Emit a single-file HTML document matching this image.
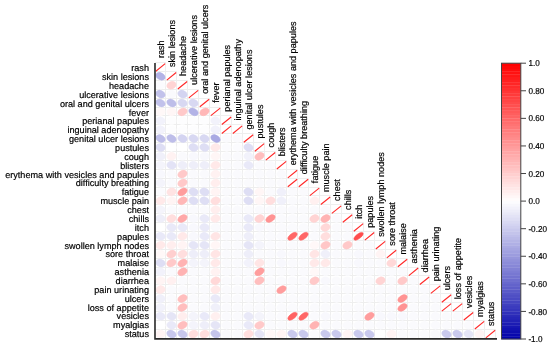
<!DOCTYPE html><html><head><meta charset="utf-8"><style>html,body{margin:0;padding:0;background:#fff;}svg{display:block}text{font-family:"Liberation Sans",Arial,sans-serif;fill:#000;stroke:#000;stroke-width:0.18px;text-rendering:geometricPrecision}</style></head><body>
<svg width="550" height="346" viewBox="0 0 550 346">
<rect width="550" height="346" fill="#fff"/>
<path d="M155.0 62.5H166.0M155.0 71.5H177.0M155.0 80.5H188.0M155.0 89.5H199.0M155.0 98.5H210.0M155.0 107.5H221.0M155.0 115.5H232.0M155.0 124.5H243.0M155.0 133.5H254.0M155.0 142.5H265.0M155.0 151.5H276.0M155.0 160.5H287.0M155.0 169.5H298.0M155.0 178.5H309.0M155.0 187.5H320.0M155.0 195.5H331.0M155.0 204.5H342.0M155.0 213.5H353.0M155.0 222.5H364.0M155.0 231.5H375.0M155.0 240.5H386.0M155.0 249.5H397.0M155.0 258.5H408.0M155.0 267.5H419.0M155.0 275.5H430.0M155.0 284.5H441.0M155.0 293.5H452.0M155.0 302.5H463.0M155.0 311.5H474.0M155.0 320.5H485.0M155.0 329.5H496.0M154.5 63.0V338.5M165.5 63.0V338.5M176.5 71.9V338.5M187.5 80.8V338.5M198.5 89.7V338.5M209.5 98.5V338.5M220.5 107.4V338.5M231.5 116.3V338.5M242.5 125.2V338.5M253.5 134.1V338.5M264.5 143.0V338.5M275.5 151.9V338.5M286.5 160.8V338.5M297.5 169.6V338.5M308.5 178.5V338.5M319.5 187.4V338.5M330.5 196.3V338.5M341.5 205.2V338.5M352.5 214.1V338.5M363.5 223.0V338.5M374.5 231.9V338.5M385.5 240.7V338.5M396.5 249.6V338.5M407.5 258.5V338.5M418.5 267.4V338.5M429.5 276.3V338.5M440.5 285.2V338.5M451.5 294.1V338.5M462.5 303.0V338.5M473.5 311.8V338.5M484.5 320.7V338.5M495.5 329.6V338.5" stroke="#eeeeee" stroke-width="1" fill="none"/>
<ellipse rx="0.356" ry="0.484" transform="translate(160.50 76.33) scale(11.000 8.887) rotate(-45)" fill="#b3b3e6" stroke="#b3b3e6" stroke-width="0.6" vector-effect="non-scaling-stroke"/>
<ellipse rx="0.421" ry="0.429" transform="translate(160.50 85.22) scale(11.000 8.887) rotate(-45)" fill="#fbfbfe" stroke="#fbfbfe" stroke-width="0.6" vector-effect="non-scaling-stroke"/>
<ellipse rx="0.460" ry="0.387" transform="translate(171.50 85.22) scale(11.000 8.887) rotate(-45)" fill="#ffd4d4" stroke="#ffd4d4" stroke-width="0.6" vector-effect="non-scaling-stroke"/>
<ellipse rx="0.371" ry="0.473" transform="translate(160.50 94.10) scale(11.000 8.887) rotate(-45)" fill="#c2c2eb" stroke="#c2c2eb" stroke-width="0.6" vector-effect="non-scaling-stroke"/>
<ellipse rx="0.421" ry="0.429" transform="translate(171.50 94.10) scale(11.000 8.887) rotate(-45)" fill="#fafafd" stroke="#fafafd" stroke-width="0.6" vector-effect="non-scaling-stroke"/>
<ellipse rx="0.387" ry="0.460" transform="translate(182.50 94.10) scale(11.000 8.887) rotate(-45)" fill="#d4d4f1" stroke="#d4d4f1" stroke-width="0.6" vector-effect="non-scaling-stroke"/>
<ellipse rx="0.371" ry="0.473" transform="translate(160.50 102.99) scale(11.000 8.887) rotate(-45)" fill="#c2c2eb" stroke="#c2c2eb" stroke-width="0.6" vector-effect="non-scaling-stroke"/>
<ellipse rx="0.367" ry="0.476" transform="translate(171.50 102.99) scale(11.000 8.887) rotate(-45)" fill="#bebee9" stroke="#bebee9" stroke-width="0.6" vector-effect="non-scaling-stroke"/>
<ellipse rx="0.391" ry="0.456" transform="translate(182.50 102.99) scale(11.000 8.887) rotate(-45)" fill="#d8d8f2" stroke="#d8d8f2" stroke-width="0.6" vector-effect="non-scaling-stroke"/>
<ellipse rx="0.391" ry="0.456" transform="translate(193.50 102.99) scale(11.000 8.887) rotate(-45)" fill="#d8d8f2" stroke="#d8d8f2" stroke-width="0.6" vector-effect="non-scaling-stroke"/>
<ellipse rx="0.430" ry="0.420" transform="translate(160.50 111.88) scale(11.000 8.887) rotate(-45)" fill="#fff8f8" stroke="#fff8f8" stroke-width="0.6" vector-effect="non-scaling-stroke"/>
<ellipse rx="0.432" ry="0.418" transform="translate(171.50 111.88) scale(11.000 8.887) rotate(-45)" fill="#fff6f6" stroke="#fff6f6" stroke-width="0.6" vector-effect="non-scaling-stroke"/>
<ellipse rx="0.468" ry="0.377" transform="translate(182.50 111.88) scale(11.000 8.887) rotate(-45)" fill="#ffc9c9" stroke="#ffc9c9" stroke-width="0.6" vector-effect="non-scaling-stroke"/>
<ellipse rx="0.356" ry="0.484" transform="translate(193.50 111.88) scale(11.000 8.887) rotate(-45)" fill="#b3b3e6" stroke="#b3b3e6" stroke-width="0.6" vector-effect="non-scaling-stroke"/>
<ellipse rx="0.481" ry="0.360" transform="translate(204.50 111.88) scale(11.000 8.887) rotate(-45)" fill="#ffb7b7" stroke="#ffb7b7" stroke-width="0.6" vector-effect="non-scaling-stroke"/>
<ellipse rx="0.414" ry="0.436" transform="translate(160.50 120.77) scale(11.000 8.887) rotate(-45)" fill="#f2f2fb" stroke="#f2f2fb" stroke-width="0.6" vector-effect="non-scaling-stroke"/>
<ellipse rx="0.423" ry="0.427" transform="translate(171.50 120.77) scale(11.000 8.887) rotate(-45)" fill="#fdfdfe" stroke="#fdfdfe" stroke-width="0.6" vector-effect="non-scaling-stroke"/>
<ellipse rx="0.423" ry="0.427" transform="translate(182.50 120.77) scale(11.000 8.887) rotate(-45)" fill="#fdfdfe" stroke="#fdfdfe" stroke-width="0.6" vector-effect="non-scaling-stroke"/>
<ellipse rx="0.423" ry="0.427" transform="translate(193.50 120.77) scale(11.000 8.887) rotate(-45)" fill="#fdfdfe" stroke="#fdfdfe" stroke-width="0.6" vector-effect="non-scaling-stroke"/>
<ellipse rx="0.423" ry="0.427" transform="translate(204.50 120.77) scale(11.000 8.887) rotate(-45)" fill="#fdfdfe" stroke="#fdfdfe" stroke-width="0.6" vector-effect="non-scaling-stroke"/>
<ellipse rx="0.414" ry="0.436" transform="translate(215.50 120.77) scale(11.000 8.887) rotate(-45)" fill="#f2f2fb" stroke="#f2f2fb" stroke-width="0.6" vector-effect="non-scaling-stroke"/>
<ellipse rx="0.414" ry="0.436" transform="translate(160.50 129.65) scale(11.000 8.887) rotate(-45)" fill="#f2f2fb" stroke="#f2f2fb" stroke-width="0.6" vector-effect="non-scaling-stroke"/>
<ellipse rx="0.423" ry="0.427" transform="translate(171.50 129.65) scale(11.000 8.887) rotate(-45)" fill="#fdfdfe" stroke="#fdfdfe" stroke-width="0.6" vector-effect="non-scaling-stroke"/>
<ellipse rx="0.423" ry="0.427" transform="translate(182.50 129.65) scale(11.000 8.887) rotate(-45)" fill="#fdfdfe" stroke="#fdfdfe" stroke-width="0.6" vector-effect="non-scaling-stroke"/>
<ellipse rx="0.423" ry="0.427" transform="translate(193.50 129.65) scale(11.000 8.887) rotate(-45)" fill="#fdfdfe" stroke="#fdfdfe" stroke-width="0.6" vector-effect="non-scaling-stroke"/>
<ellipse rx="0.423" ry="0.427" transform="translate(204.50 129.65) scale(11.000 8.887) rotate(-45)" fill="#fdfdfe" stroke="#fdfdfe" stroke-width="0.6" vector-effect="non-scaling-stroke"/>
<ellipse rx="0.414" ry="0.436" transform="translate(215.50 129.65) scale(11.000 8.887) rotate(-45)" fill="#f2f2fb" stroke="#f2f2fb" stroke-width="0.6" vector-effect="non-scaling-stroke"/>
<ellipse rx="0.367" ry="0.476" transform="translate(160.50 138.54) scale(11.000 8.887) rotate(-45)" fill="#bebee9" stroke="#bebee9" stroke-width="0.6" vector-effect="non-scaling-stroke"/>
<ellipse rx="0.367" ry="0.476" transform="translate(171.50 138.54) scale(11.000 8.887) rotate(-45)" fill="#bebee9" stroke="#bebee9" stroke-width="0.6" vector-effect="non-scaling-stroke"/>
<ellipse rx="0.387" ry="0.460" transform="translate(182.50 138.54) scale(11.000 8.887) rotate(-45)" fill="#d4d4f1" stroke="#d4d4f1" stroke-width="0.6" vector-effect="non-scaling-stroke"/>
<ellipse rx="0.391" ry="0.456" transform="translate(193.50 138.54) scale(11.000 8.887) rotate(-45)" fill="#d8d8f2" stroke="#d8d8f2" stroke-width="0.6" vector-effect="non-scaling-stroke"/>
<ellipse rx="0.391" ry="0.456" transform="translate(204.50 138.54) scale(11.000 8.887) rotate(-45)" fill="#d8d8f2" stroke="#d8d8f2" stroke-width="0.6" vector-effect="non-scaling-stroke"/>
<ellipse rx="0.347" ry="0.490" transform="translate(215.50 138.54) scale(11.000 8.887) rotate(-45)" fill="#aaaae3" stroke="#aaaae3" stroke-width="0.6" vector-effect="non-scaling-stroke"/>
<ellipse rx="0.421" ry="0.429" transform="translate(226.50 138.54) scale(11.000 8.887) rotate(-45)" fill="#fafafd" stroke="#fafafd" stroke-width="0.6" vector-effect="non-scaling-stroke"/>
<ellipse rx="0.421" ry="0.429" transform="translate(237.50 138.54) scale(11.000 8.887) rotate(-45)" fill="#fafafd" stroke="#fafafd" stroke-width="0.6" vector-effect="non-scaling-stroke"/>
<ellipse rx="0.397" ry="0.451" transform="translate(160.50 147.43) scale(11.000 8.887) rotate(-45)" fill="#dedef4" stroke="#dedef4" stroke-width="0.6" vector-effect="non-scaling-stroke"/>
<ellipse rx="0.425" ry="0.425" transform="translate(171.50 147.43) scale(11.000 8.887) rotate(-45)" fill="#ffffff" stroke="#ffffff" stroke-width="0.6" vector-effect="non-scaling-stroke"/>
<ellipse rx="0.425" ry="0.425" transform="translate(182.50 147.43) scale(11.000 8.887) rotate(-45)" fill="#ffffff" stroke="#ffffff" stroke-width="0.6" vector-effect="non-scaling-stroke"/>
<ellipse rx="0.397" ry="0.451" transform="translate(193.50 147.43) scale(11.000 8.887) rotate(-45)" fill="#dedef4" stroke="#dedef4" stroke-width="0.6" vector-effect="non-scaling-stroke"/>
<ellipse rx="0.397" ry="0.451" transform="translate(204.50 147.43) scale(11.000 8.887) rotate(-45)" fill="#dedef4" stroke="#dedef4" stroke-width="0.6" vector-effect="non-scaling-stroke"/>
<ellipse rx="0.443" ry="0.407" transform="translate(215.50 147.43) scale(11.000 8.887) rotate(-45)" fill="#ffe9e9" stroke="#ffe9e9" stroke-width="0.6" vector-effect="non-scaling-stroke"/>
<ellipse rx="0.421" ry="0.429" transform="translate(226.50 147.43) scale(11.000 8.887) rotate(-45)" fill="#fbfbfe" stroke="#fbfbfe" stroke-width="0.6" vector-effect="non-scaling-stroke"/>
<ellipse rx="0.421" ry="0.429" transform="translate(237.50 147.43) scale(11.000 8.887) rotate(-45)" fill="#fbfbfe" stroke="#fbfbfe" stroke-width="0.6" vector-effect="non-scaling-stroke"/>
<ellipse rx="0.397" ry="0.451" transform="translate(248.50 147.43) scale(11.000 8.887) rotate(-45)" fill="#dedef4" stroke="#dedef4" stroke-width="0.6" vector-effect="non-scaling-stroke"/>
<ellipse rx="0.412" ry="0.437" transform="translate(160.50 156.31) scale(11.000 8.887) rotate(-45)" fill="#f0f0fa" stroke="#f0f0fa" stroke-width="0.6" vector-effect="non-scaling-stroke"/>
<ellipse rx="0.436" ry="0.414" transform="translate(171.50 156.31) scale(11.000 8.887) rotate(-45)" fill="#fff2f2" stroke="#fff2f2" stroke-width="0.6" vector-effect="non-scaling-stroke"/>
<ellipse rx="0.421" ry="0.429" transform="translate(182.50 156.31) scale(11.000 8.887) rotate(-45)" fill="#fafafd" stroke="#fafafd" stroke-width="0.6" vector-effect="non-scaling-stroke"/>
<ellipse rx="0.420" ry="0.430" transform="translate(193.50 156.31) scale(11.000 8.887) rotate(-45)" fill="#f8f8fd" stroke="#f8f8fd" stroke-width="0.6" vector-effect="non-scaling-stroke"/>
<ellipse rx="0.420" ry="0.430" transform="translate(204.50 156.31) scale(11.000 8.887) rotate(-45)" fill="#f8f8fd" stroke="#f8f8fd" stroke-width="0.6" vector-effect="non-scaling-stroke"/>
<ellipse rx="0.432" ry="0.418" transform="translate(215.50 156.31) scale(11.000 8.887) rotate(-45)" fill="#fff6f6" stroke="#fff6f6" stroke-width="0.6" vector-effect="non-scaling-stroke"/>
<ellipse rx="0.421" ry="0.429" transform="translate(226.50 156.31) scale(11.000 8.887) rotate(-45)" fill="#fafafd" stroke="#fafafd" stroke-width="0.6" vector-effect="non-scaling-stroke"/>
<ellipse rx="0.421" ry="0.429" transform="translate(237.50 156.31) scale(11.000 8.887) rotate(-45)" fill="#fafafd" stroke="#fafafd" stroke-width="0.6" vector-effect="non-scaling-stroke"/>
<ellipse rx="0.414" ry="0.436" transform="translate(248.50 156.31) scale(11.000 8.887) rotate(-45)" fill="#f2f2fb" stroke="#f2f2fb" stroke-width="0.6" vector-effect="non-scaling-stroke"/>
<ellipse rx="0.476" ry="0.367" transform="translate(259.50 156.31) scale(11.000 8.887) rotate(-45)" fill="#ffbebe" stroke="#ffbebe" stroke-width="0.6" vector-effect="non-scaling-stroke"/>
<ellipse rx="0.416" ry="0.434" transform="translate(160.50 165.20) scale(11.000 8.887) rotate(-45)" fill="#f4f4fb" stroke="#f4f4fb" stroke-width="0.6" vector-effect="non-scaling-stroke"/>
<ellipse rx="0.401" ry="0.448" transform="translate(171.50 165.20) scale(11.000 8.887) rotate(-45)" fill="#e3e3f6" stroke="#e3e3f6" stroke-width="0.6" vector-effect="non-scaling-stroke"/>
<ellipse rx="0.410" ry="0.439" transform="translate(182.50 165.20) scale(11.000 8.887) rotate(-45)" fill="#eeeef9" stroke="#eeeef9" stroke-width="0.6" vector-effect="non-scaling-stroke"/>
<ellipse rx="0.410" ry="0.439" transform="translate(193.50 165.20) scale(11.000 8.887) rotate(-45)" fill="#eeeef9" stroke="#eeeef9" stroke-width="0.6" vector-effect="non-scaling-stroke"/>
<ellipse rx="0.410" ry="0.439" transform="translate(204.50 165.20) scale(11.000 8.887) rotate(-45)" fill="#eeeef9" stroke="#eeeef9" stroke-width="0.6" vector-effect="non-scaling-stroke"/>
<ellipse rx="0.443" ry="0.407" transform="translate(215.50 165.20) scale(11.000 8.887) rotate(-45)" fill="#ffe9e9" stroke="#ffe9e9" stroke-width="0.6" vector-effect="non-scaling-stroke"/>
<ellipse rx="0.421" ry="0.429" transform="translate(226.50 165.20) scale(11.000 8.887) rotate(-45)" fill="#fafafd" stroke="#fafafd" stroke-width="0.6" vector-effect="non-scaling-stroke"/>
<ellipse rx="0.421" ry="0.429" transform="translate(237.50 165.20) scale(11.000 8.887) rotate(-45)" fill="#fafafd" stroke="#fafafd" stroke-width="0.6" vector-effect="non-scaling-stroke"/>
<ellipse rx="0.407" ry="0.443" transform="translate(248.50 165.20) scale(11.000 8.887) rotate(-45)" fill="#e9e9f8" stroke="#e9e9f8" stroke-width="0.6" vector-effect="non-scaling-stroke"/>
<ellipse rx="0.421" ry="0.429" transform="translate(259.50 165.20) scale(11.000 8.887) rotate(-45)" fill="#fafafd" stroke="#fafafd" stroke-width="0.6" vector-effect="non-scaling-stroke"/>
<ellipse rx="0.421" ry="0.429" transform="translate(270.50 165.20) scale(11.000 8.887) rotate(-45)" fill="#fafafd" stroke="#fafafd" stroke-width="0.6" vector-effect="non-scaling-stroke"/>
<ellipse rx="0.420" ry="0.430" transform="translate(160.50 174.09) scale(11.000 8.887) rotate(-45)" fill="#f8f8fd" stroke="#f8f8fd" stroke-width="0.6" vector-effect="non-scaling-stroke"/>
<ellipse rx="0.421" ry="0.429" transform="translate(171.50 174.09) scale(11.000 8.887) rotate(-45)" fill="#fafafd" stroke="#fafafd" stroke-width="0.6" vector-effect="non-scaling-stroke"/>
<ellipse rx="0.468" ry="0.377" transform="translate(182.50 174.09) scale(11.000 8.887) rotate(-45)" fill="#ffc9c9" stroke="#ffc9c9" stroke-width="0.6" vector-effect="non-scaling-stroke"/>
<ellipse rx="0.421" ry="0.429" transform="translate(193.50 174.09) scale(11.000 8.887) rotate(-45)" fill="#fafafd" stroke="#fafafd" stroke-width="0.6" vector-effect="non-scaling-stroke"/>
<ellipse rx="0.421" ry="0.429" transform="translate(204.50 174.09) scale(11.000 8.887) rotate(-45)" fill="#fafafd" stroke="#fafafd" stroke-width="0.6" vector-effect="non-scaling-stroke"/>
<ellipse rx="0.436" ry="0.414" transform="translate(215.50 174.09) scale(11.000 8.887) rotate(-45)" fill="#fff2f2" stroke="#fff2f2" stroke-width="0.6" vector-effect="non-scaling-stroke"/>
<ellipse rx="0.421" ry="0.429" transform="translate(226.50 174.09) scale(11.000 8.887) rotate(-45)" fill="#fafafd" stroke="#fafafd" stroke-width="0.6" vector-effect="non-scaling-stroke"/>
<ellipse rx="0.421" ry="0.429" transform="translate(237.50 174.09) scale(11.000 8.887) rotate(-45)" fill="#fafafd" stroke="#fafafd" stroke-width="0.6" vector-effect="non-scaling-stroke"/>
<ellipse rx="0.421" ry="0.429" transform="translate(248.50 174.09) scale(11.000 8.887) rotate(-45)" fill="#fafafd" stroke="#fafafd" stroke-width="0.6" vector-effect="non-scaling-stroke"/>
<ellipse rx="0.421" ry="0.429" transform="translate(259.50 174.09) scale(11.000 8.887) rotate(-45)" fill="#fafafd" stroke="#fafafd" stroke-width="0.6" vector-effect="non-scaling-stroke"/>
<ellipse rx="0.421" ry="0.429" transform="translate(270.50 174.09) scale(11.000 8.887) rotate(-45)" fill="#fafafd" stroke="#fafafd" stroke-width="0.6" vector-effect="non-scaling-stroke"/>
<ellipse rx="0.421" ry="0.429" transform="translate(281.50 174.09) scale(11.000 8.887) rotate(-45)" fill="#fafafd" stroke="#fafafd" stroke-width="0.6" vector-effect="non-scaling-stroke"/>
<ellipse rx="0.416" ry="0.434" transform="translate(160.50 182.98) scale(11.000 8.887) rotate(-45)" fill="#f4f4fb" stroke="#f4f4fb" stroke-width="0.6" vector-effect="non-scaling-stroke"/>
<ellipse rx="0.421" ry="0.429" transform="translate(171.50 182.98) scale(11.000 8.887) rotate(-45)" fill="#fafafd" stroke="#fafafd" stroke-width="0.6" vector-effect="non-scaling-stroke"/>
<ellipse rx="0.468" ry="0.377" transform="translate(182.50 182.98) scale(11.000 8.887) rotate(-45)" fill="#ffc9c9" stroke="#ffc9c9" stroke-width="0.6" vector-effect="non-scaling-stroke"/>
<ellipse rx="0.421" ry="0.429" transform="translate(193.50 182.98) scale(11.000 8.887) rotate(-45)" fill="#fafafd" stroke="#fafafd" stroke-width="0.6" vector-effect="non-scaling-stroke"/>
<ellipse rx="0.421" ry="0.429" transform="translate(204.50 182.98) scale(11.000 8.887) rotate(-45)" fill="#fafafd" stroke="#fafafd" stroke-width="0.6" vector-effect="non-scaling-stroke"/>
<ellipse rx="0.439" ry="0.410" transform="translate(215.50 182.98) scale(11.000 8.887) rotate(-45)" fill="#ffeeee" stroke="#ffeeee" stroke-width="0.6" vector-effect="non-scaling-stroke"/>
<ellipse rx="0.421" ry="0.429" transform="translate(226.50 182.98) scale(11.000 8.887) rotate(-45)" fill="#fafafd" stroke="#fafafd" stroke-width="0.6" vector-effect="non-scaling-stroke"/>
<ellipse rx="0.421" ry="0.429" transform="translate(237.50 182.98) scale(11.000 8.887) rotate(-45)" fill="#fafafd" stroke="#fafafd" stroke-width="0.6" vector-effect="non-scaling-stroke"/>
<ellipse rx="0.421" ry="0.429" transform="translate(248.50 182.98) scale(11.000 8.887) rotate(-45)" fill="#fafafd" stroke="#fafafd" stroke-width="0.6" vector-effect="non-scaling-stroke"/>
<ellipse rx="0.421" ry="0.429" transform="translate(259.50 182.98) scale(11.000 8.887) rotate(-45)" fill="#fafafd" stroke="#fafafd" stroke-width="0.6" vector-effect="non-scaling-stroke"/>
<ellipse rx="0.421" ry="0.429" transform="translate(270.50 182.98) scale(11.000 8.887) rotate(-45)" fill="#fafafd" stroke="#fafafd" stroke-width="0.6" vector-effect="non-scaling-stroke"/>
<ellipse rx="0.421" ry="0.429" transform="translate(281.50 182.98) scale(11.000 8.887) rotate(-45)" fill="#fafafd" stroke="#fafafd" stroke-width="0.6" vector-effect="non-scaling-stroke"/>
<ellipse rx="0.421" ry="0.429" transform="translate(160.50 191.86) scale(11.000 8.887) rotate(-45)" fill="#fbfbfe" stroke="#fbfbfe" stroke-width="0.6" vector-effect="non-scaling-stroke"/>
<ellipse rx="0.448" ry="0.401" transform="translate(171.50 191.86) scale(11.000 8.887) rotate(-45)" fill="#ffe3e3" stroke="#ffe3e3" stroke-width="0.6" vector-effect="non-scaling-stroke"/>
<ellipse rx="0.500" ry="0.334" transform="translate(182.50 191.86) scale(11.000 8.887) rotate(-45)" fill="#ff9d9d" stroke="#ff9d9d" stroke-width="0.6" vector-effect="non-scaling-stroke"/>
<ellipse rx="0.397" ry="0.451" transform="translate(193.50 191.86) scale(11.000 8.887) rotate(-45)" fill="#dedef4" stroke="#dedef4" stroke-width="0.6" vector-effect="non-scaling-stroke"/>
<ellipse rx="0.397" ry="0.451" transform="translate(204.50 191.86) scale(11.000 8.887) rotate(-45)" fill="#dedef4" stroke="#dedef4" stroke-width="0.6" vector-effect="non-scaling-stroke"/>
<ellipse rx="0.434" ry="0.416" transform="translate(215.50 191.86) scale(11.000 8.887) rotate(-45)" fill="#fff4f4" stroke="#fff4f4" stroke-width="0.6" vector-effect="non-scaling-stroke"/>
<ellipse rx="0.421" ry="0.429" transform="translate(226.50 191.86) scale(11.000 8.887) rotate(-45)" fill="#fafafd" stroke="#fafafd" stroke-width="0.6" vector-effect="non-scaling-stroke"/>
<ellipse rx="0.421" ry="0.429" transform="translate(237.50 191.86) scale(11.000 8.887) rotate(-45)" fill="#fafafd" stroke="#fafafd" stroke-width="0.6" vector-effect="non-scaling-stroke"/>
<ellipse rx="0.397" ry="0.451" transform="translate(248.50 191.86) scale(11.000 8.887) rotate(-45)" fill="#dedef4" stroke="#dedef4" stroke-width="0.6" vector-effect="non-scaling-stroke"/>
<ellipse rx="0.432" ry="0.418" transform="translate(259.50 191.86) scale(11.000 8.887) rotate(-45)" fill="#fff6f6" stroke="#fff6f6" stroke-width="0.6" vector-effect="non-scaling-stroke"/>
<ellipse rx="0.421" ry="0.429" transform="translate(270.50 191.86) scale(11.000 8.887) rotate(-45)" fill="#fafafd" stroke="#fafafd" stroke-width="0.6" vector-effect="non-scaling-stroke"/>
<ellipse rx="0.412" ry="0.437" transform="translate(281.50 191.86) scale(11.000 8.887) rotate(-45)" fill="#f0f0fa" stroke="#f0f0fa" stroke-width="0.6" vector-effect="non-scaling-stroke"/>
<ellipse rx="0.421" ry="0.429" transform="translate(292.50 191.86) scale(11.000 8.887) rotate(-45)" fill="#fafafd" stroke="#fafafd" stroke-width="0.6" vector-effect="non-scaling-stroke"/>
<ellipse rx="0.421" ry="0.429" transform="translate(303.50 191.86) scale(11.000 8.887) rotate(-45)" fill="#fafafd" stroke="#fafafd" stroke-width="0.6" vector-effect="non-scaling-stroke"/>
<ellipse rx="0.443" ry="0.407" transform="translate(160.50 200.75) scale(11.000 8.887) rotate(-45)" fill="#ffe9e9" stroke="#ffe9e9" stroke-width="0.6" vector-effect="non-scaling-stroke"/>
<ellipse rx="0.434" ry="0.416" transform="translate(171.50 200.75) scale(11.000 8.887) rotate(-45)" fill="#fff4f4" stroke="#fff4f4" stroke-width="0.6" vector-effect="non-scaling-stroke"/>
<ellipse rx="0.481" ry="0.360" transform="translate(182.50 200.75) scale(11.000 8.887) rotate(-45)" fill="#ffb7b7" stroke="#ffb7b7" stroke-width="0.6" vector-effect="non-scaling-stroke"/>
<ellipse rx="0.397" ry="0.451" transform="translate(193.50 200.75) scale(11.000 8.887) rotate(-45)" fill="#dedef4" stroke="#dedef4" stroke-width="0.6" vector-effect="non-scaling-stroke"/>
<ellipse rx="0.397" ry="0.451" transform="translate(204.50 200.75) scale(11.000 8.887) rotate(-45)" fill="#dedef4" stroke="#dedef4" stroke-width="0.6" vector-effect="non-scaling-stroke"/>
<ellipse rx="0.451" ry="0.397" transform="translate(215.50 200.75) scale(11.000 8.887) rotate(-45)" fill="#ffdede" stroke="#ffdede" stroke-width="0.6" vector-effect="non-scaling-stroke"/>
<ellipse rx="0.421" ry="0.429" transform="translate(226.50 200.75) scale(11.000 8.887) rotate(-45)" fill="#fafafd" stroke="#fafafd" stroke-width="0.6" vector-effect="non-scaling-stroke"/>
<ellipse rx="0.421" ry="0.429" transform="translate(237.50 200.75) scale(11.000 8.887) rotate(-45)" fill="#fafafd" stroke="#fafafd" stroke-width="0.6" vector-effect="non-scaling-stroke"/>
<ellipse rx="0.397" ry="0.451" transform="translate(248.50 200.75) scale(11.000 8.887) rotate(-45)" fill="#dedef4" stroke="#dedef4" stroke-width="0.6" vector-effect="non-scaling-stroke"/>
<ellipse rx="0.432" ry="0.418" transform="translate(259.50 200.75) scale(11.000 8.887) rotate(-45)" fill="#fff6f6" stroke="#fff6f6" stroke-width="0.6" vector-effect="non-scaling-stroke"/>
<ellipse rx="0.451" ry="0.397" transform="translate(270.50 200.75) scale(11.000 8.887) rotate(-45)" fill="#ffdede" stroke="#ffdede" stroke-width="0.6" vector-effect="non-scaling-stroke"/>
<ellipse rx="0.412" ry="0.437" transform="translate(281.50 200.75) scale(11.000 8.887) rotate(-45)" fill="#f0f0fa" stroke="#f0f0fa" stroke-width="0.6" vector-effect="non-scaling-stroke"/>
<ellipse rx="0.421" ry="0.429" transform="translate(292.50 200.75) scale(11.000 8.887) rotate(-45)" fill="#fafafd" stroke="#fafafd" stroke-width="0.6" vector-effect="non-scaling-stroke"/>
<ellipse rx="0.421" ry="0.429" transform="translate(303.50 200.75) scale(11.000 8.887) rotate(-45)" fill="#fafafd" stroke="#fafafd" stroke-width="0.6" vector-effect="non-scaling-stroke"/>
<ellipse rx="0.437" ry="0.412" transform="translate(314.50 200.75) scale(11.000 8.887) rotate(-45)" fill="#fff0f0" stroke="#fff0f0" stroke-width="0.6" vector-effect="non-scaling-stroke"/>
<ellipse rx="0.416" ry="0.434" transform="translate(160.50 209.64) scale(11.000 8.887) rotate(-45)" fill="#f4f4fb" stroke="#f4f4fb" stroke-width="0.6" vector-effect="non-scaling-stroke"/>
<ellipse rx="0.421" ry="0.429" transform="translate(171.50 209.64) scale(11.000 8.887) rotate(-45)" fill="#fafafd" stroke="#fafafd" stroke-width="0.6" vector-effect="non-scaling-stroke"/>
<ellipse rx="0.421" ry="0.429" transform="translate(182.50 209.64) scale(11.000 8.887) rotate(-45)" fill="#fafafd" stroke="#fafafd" stroke-width="0.6" vector-effect="non-scaling-stroke"/>
<ellipse rx="0.421" ry="0.429" transform="translate(193.50 209.64) scale(11.000 8.887) rotate(-45)" fill="#fafafd" stroke="#fafafd" stroke-width="0.6" vector-effect="non-scaling-stroke"/>
<ellipse rx="0.421" ry="0.429" transform="translate(204.50 209.64) scale(11.000 8.887) rotate(-45)" fill="#fafafd" stroke="#fafafd" stroke-width="0.6" vector-effect="non-scaling-stroke"/>
<ellipse rx="0.439" ry="0.410" transform="translate(215.50 209.64) scale(11.000 8.887) rotate(-45)" fill="#ffeeee" stroke="#ffeeee" stroke-width="0.6" vector-effect="non-scaling-stroke"/>
<ellipse rx="0.421" ry="0.429" transform="translate(226.50 209.64) scale(11.000 8.887) rotate(-45)" fill="#fafafd" stroke="#fafafd" stroke-width="0.6" vector-effect="non-scaling-stroke"/>
<ellipse rx="0.421" ry="0.429" transform="translate(237.50 209.64) scale(11.000 8.887) rotate(-45)" fill="#fafafd" stroke="#fafafd" stroke-width="0.6" vector-effect="non-scaling-stroke"/>
<ellipse rx="0.421" ry="0.429" transform="translate(248.50 209.64) scale(11.000 8.887) rotate(-45)" fill="#fafafd" stroke="#fafafd" stroke-width="0.6" vector-effect="non-scaling-stroke"/>
<ellipse rx="0.421" ry="0.429" transform="translate(259.50 209.64) scale(11.000 8.887) rotate(-45)" fill="#fafafd" stroke="#fafafd" stroke-width="0.6" vector-effect="non-scaling-stroke"/>
<ellipse rx="0.421" ry="0.429" transform="translate(270.50 209.64) scale(11.000 8.887) rotate(-45)" fill="#fafafd" stroke="#fafafd" stroke-width="0.6" vector-effect="non-scaling-stroke"/>
<ellipse rx="0.421" ry="0.429" transform="translate(281.50 209.64) scale(11.000 8.887) rotate(-45)" fill="#fafafd" stroke="#fafafd" stroke-width="0.6" vector-effect="non-scaling-stroke"/>
<ellipse rx="0.421" ry="0.429" transform="translate(292.50 209.64) scale(11.000 8.887) rotate(-45)" fill="#fafafd" stroke="#fafafd" stroke-width="0.6" vector-effect="non-scaling-stroke"/>
<ellipse rx="0.421" ry="0.429" transform="translate(303.50 209.64) scale(11.000 8.887) rotate(-45)" fill="#fafafd" stroke="#fafafd" stroke-width="0.6" vector-effect="non-scaling-stroke"/>
<ellipse rx="0.421" ry="0.429" transform="translate(314.50 209.64) scale(11.000 8.887) rotate(-45)" fill="#fafafd" stroke="#fafafd" stroke-width="0.6" vector-effect="non-scaling-stroke"/>
<ellipse rx="0.421" ry="0.429" transform="translate(325.50 209.64) scale(11.000 8.887) rotate(-45)" fill="#fafafd" stroke="#fafafd" stroke-width="0.6" vector-effect="non-scaling-stroke"/>
<ellipse rx="0.410" ry="0.439" transform="translate(160.50 218.52) scale(11.000 8.887) rotate(-45)" fill="#eeeef9" stroke="#eeeef9" stroke-width="0.6" vector-effect="non-scaling-stroke"/>
<ellipse rx="0.451" ry="0.397" transform="translate(171.50 218.52) scale(11.000 8.887) rotate(-45)" fill="#ffdede" stroke="#ffdede" stroke-width="0.6" vector-effect="non-scaling-stroke"/>
<ellipse rx="0.492" ry="0.345" transform="translate(182.50 218.52) scale(11.000 8.887) rotate(-45)" fill="#ffa8a8" stroke="#ffa8a8" stroke-width="0.6" vector-effect="non-scaling-stroke"/>
<ellipse rx="0.420" ry="0.430" transform="translate(193.50 218.52) scale(11.000 8.887) rotate(-45)" fill="#f8f8fd" stroke="#f8f8fd" stroke-width="0.6" vector-effect="non-scaling-stroke"/>
<ellipse rx="0.407" ry="0.443" transform="translate(204.50 218.52) scale(11.000 8.887) rotate(-45)" fill="#e9e9f8" stroke="#e9e9f8" stroke-width="0.6" vector-effect="non-scaling-stroke"/>
<ellipse rx="0.443" ry="0.407" transform="translate(215.50 218.52) scale(11.000 8.887) rotate(-45)" fill="#ffe9e9" stroke="#ffe9e9" stroke-width="0.6" vector-effect="non-scaling-stroke"/>
<ellipse rx="0.421" ry="0.429" transform="translate(226.50 218.52) scale(11.000 8.887) rotate(-45)" fill="#fafafd" stroke="#fafafd" stroke-width="0.6" vector-effect="non-scaling-stroke"/>
<ellipse rx="0.421" ry="0.429" transform="translate(237.50 218.52) scale(11.000 8.887) rotate(-45)" fill="#fafafd" stroke="#fafafd" stroke-width="0.6" vector-effect="non-scaling-stroke"/>
<ellipse rx="0.407" ry="0.443" transform="translate(248.50 218.52) scale(11.000 8.887) rotate(-45)" fill="#e9e9f8" stroke="#e9e9f8" stroke-width="0.6" vector-effect="non-scaling-stroke"/>
<ellipse rx="0.460" ry="0.387" transform="translate(259.50 218.52) scale(11.000 8.887) rotate(-45)" fill="#ffd4d4" stroke="#ffd4d4" stroke-width="0.6" vector-effect="non-scaling-stroke"/>
<ellipse rx="0.507" ry="0.322" transform="translate(270.50 218.52) scale(11.000 8.887) rotate(-45)" fill="#ff9393" stroke="#ff9393" stroke-width="0.6" vector-effect="non-scaling-stroke"/>
<ellipse rx="0.421" ry="0.429" transform="translate(281.50 218.52) scale(11.000 8.887) rotate(-45)" fill="#fafafd" stroke="#fafafd" stroke-width="0.6" vector-effect="non-scaling-stroke"/>
<ellipse rx="0.421" ry="0.429" transform="translate(292.50 218.52) scale(11.000 8.887) rotate(-45)" fill="#fafafd" stroke="#fafafd" stroke-width="0.6" vector-effect="non-scaling-stroke"/>
<ellipse rx="0.421" ry="0.429" transform="translate(303.50 218.52) scale(11.000 8.887) rotate(-45)" fill="#fafafd" stroke="#fafafd" stroke-width="0.6" vector-effect="non-scaling-stroke"/>
<ellipse rx="0.460" ry="0.387" transform="translate(314.50 218.52) scale(11.000 8.887) rotate(-45)" fill="#ffd4d4" stroke="#ffd4d4" stroke-width="0.6" vector-effect="non-scaling-stroke"/>
<ellipse rx="0.484" ry="0.356" transform="translate(325.50 218.52) scale(11.000 8.887) rotate(-45)" fill="#ffb3b3" stroke="#ffb3b3" stroke-width="0.6" vector-effect="non-scaling-stroke"/>
<ellipse rx="0.421" ry="0.429" transform="translate(336.50 218.52) scale(11.000 8.887) rotate(-45)" fill="#fafafd" stroke="#fafafd" stroke-width="0.6" vector-effect="non-scaling-stroke"/>
<ellipse rx="0.425" ry="0.425" transform="translate(160.50 227.41) scale(11.000 8.887) rotate(-45)" fill="#ffffff" stroke="#ffffff" stroke-width="0.6" vector-effect="non-scaling-stroke"/>
<ellipse rx="0.407" ry="0.443" transform="translate(171.50 227.41) scale(11.000 8.887) rotate(-45)" fill="#e9e9f8" stroke="#e9e9f8" stroke-width="0.6" vector-effect="non-scaling-stroke"/>
<ellipse rx="0.407" ry="0.443" transform="translate(182.50 227.41) scale(11.000 8.887) rotate(-45)" fill="#e9e9f8" stroke="#e9e9f8" stroke-width="0.6" vector-effect="non-scaling-stroke"/>
<ellipse rx="0.420" ry="0.430" transform="translate(193.50 227.41) scale(11.000 8.887) rotate(-45)" fill="#f8f8fd" stroke="#f8f8fd" stroke-width="0.6" vector-effect="non-scaling-stroke"/>
<ellipse rx="0.407" ry="0.443" transform="translate(204.50 227.41) scale(11.000 8.887) rotate(-45)" fill="#e9e9f8" stroke="#e9e9f8" stroke-width="0.6" vector-effect="non-scaling-stroke"/>
<ellipse rx="0.421" ry="0.429" transform="translate(215.50 227.41) scale(11.000 8.887) rotate(-45)" fill="#fafafd" stroke="#fafafd" stroke-width="0.6" vector-effect="non-scaling-stroke"/>
<ellipse rx="0.421" ry="0.429" transform="translate(226.50 227.41) scale(11.000 8.887) rotate(-45)" fill="#fafafd" stroke="#fafafd" stroke-width="0.6" vector-effect="non-scaling-stroke"/>
<ellipse rx="0.421" ry="0.429" transform="translate(237.50 227.41) scale(11.000 8.887) rotate(-45)" fill="#fafafd" stroke="#fafafd" stroke-width="0.6" vector-effect="non-scaling-stroke"/>
<ellipse rx="0.407" ry="0.443" transform="translate(248.50 227.41) scale(11.000 8.887) rotate(-45)" fill="#e9e9f8" stroke="#e9e9f8" stroke-width="0.6" vector-effect="non-scaling-stroke"/>
<ellipse rx="0.420" ry="0.430" transform="translate(259.50 227.41) scale(11.000 8.887) rotate(-45)" fill="#f8f8fd" stroke="#f8f8fd" stroke-width="0.6" vector-effect="non-scaling-stroke"/>
<ellipse rx="0.421" ry="0.429" transform="translate(270.50 227.41) scale(11.000 8.887) rotate(-45)" fill="#fafafd" stroke="#fafafd" stroke-width="0.6" vector-effect="non-scaling-stroke"/>
<ellipse rx="0.421" ry="0.429" transform="translate(281.50 227.41) scale(11.000 8.887) rotate(-45)" fill="#fafafd" stroke="#fafafd" stroke-width="0.6" vector-effect="non-scaling-stroke"/>
<ellipse rx="0.421" ry="0.429" transform="translate(292.50 227.41) scale(11.000 8.887) rotate(-45)" fill="#fafafd" stroke="#fafafd" stroke-width="0.6" vector-effect="non-scaling-stroke"/>
<ellipse rx="0.421" ry="0.429" transform="translate(303.50 227.41) scale(11.000 8.887) rotate(-45)" fill="#fafafd" stroke="#fafafd" stroke-width="0.6" vector-effect="non-scaling-stroke"/>
<ellipse rx="0.421" ry="0.429" transform="translate(314.50 227.41) scale(11.000 8.887) rotate(-45)" fill="#fafafd" stroke="#fafafd" stroke-width="0.6" vector-effect="non-scaling-stroke"/>
<ellipse rx="0.456" ry="0.391" transform="translate(325.50 227.41) scale(11.000 8.887) rotate(-45)" fill="#ffd8d8" stroke="#ffd8d8" stroke-width="0.6" vector-effect="non-scaling-stroke"/>
<ellipse rx="0.421" ry="0.429" transform="translate(336.50 227.41) scale(11.000 8.887) rotate(-45)" fill="#fafafd" stroke="#fafafd" stroke-width="0.6" vector-effect="non-scaling-stroke"/>
<ellipse rx="0.421" ry="0.429" transform="translate(347.50 227.41) scale(11.000 8.887) rotate(-45)" fill="#fafafd" stroke="#fafafd" stroke-width="0.6" vector-effect="non-scaling-stroke"/>
<ellipse rx="0.407" ry="0.443" transform="translate(160.50 236.30) scale(11.000 8.887) rotate(-45)" fill="#e9e9f8" stroke="#e9e9f8" stroke-width="0.6" vector-effect="non-scaling-stroke"/>
<ellipse rx="0.407" ry="0.443" transform="translate(171.50 236.30) scale(11.000 8.887) rotate(-45)" fill="#e9e9f8" stroke="#e9e9f8" stroke-width="0.6" vector-effect="non-scaling-stroke"/>
<ellipse rx="0.443" ry="0.407" transform="translate(182.50 236.30) scale(11.000 8.887) rotate(-45)" fill="#ffe9e9" stroke="#ffe9e9" stroke-width="0.6" vector-effect="non-scaling-stroke"/>
<ellipse rx="0.420" ry="0.430" transform="translate(193.50 236.30) scale(11.000 8.887) rotate(-45)" fill="#f8f8fd" stroke="#f8f8fd" stroke-width="0.6" vector-effect="non-scaling-stroke"/>
<ellipse rx="0.407" ry="0.443" transform="translate(204.50 236.30) scale(11.000 8.887) rotate(-45)" fill="#e9e9f8" stroke="#e9e9f8" stroke-width="0.6" vector-effect="non-scaling-stroke"/>
<ellipse rx="0.446" ry="0.403" transform="translate(215.50 236.30) scale(11.000 8.887) rotate(-45)" fill="#ffe5e5" stroke="#ffe5e5" stroke-width="0.6" vector-effect="non-scaling-stroke"/>
<ellipse rx="0.421" ry="0.429" transform="translate(226.50 236.30) scale(11.000 8.887) rotate(-45)" fill="#fafafd" stroke="#fafafd" stroke-width="0.6" vector-effect="non-scaling-stroke"/>
<ellipse rx="0.421" ry="0.429" transform="translate(237.50 236.30) scale(11.000 8.887) rotate(-45)" fill="#fafafd" stroke="#fafafd" stroke-width="0.6" vector-effect="non-scaling-stroke"/>
<ellipse rx="0.410" ry="0.439" transform="translate(248.50 236.30) scale(11.000 8.887) rotate(-45)" fill="#eeeef9" stroke="#eeeef9" stroke-width="0.6" vector-effect="non-scaling-stroke"/>
<ellipse rx="0.421" ry="0.429" transform="translate(259.50 236.30) scale(11.000 8.887) rotate(-45)" fill="#fafafd" stroke="#fafafd" stroke-width="0.6" vector-effect="non-scaling-stroke"/>
<ellipse rx="0.421" ry="0.429" transform="translate(270.50 236.30) scale(11.000 8.887) rotate(-45)" fill="#fafafd" stroke="#fafafd" stroke-width="0.6" vector-effect="non-scaling-stroke"/>
<ellipse rx="0.421" ry="0.429" transform="translate(281.50 236.30) scale(11.000 8.887) rotate(-45)" fill="#fafafd" stroke="#fafafd" stroke-width="0.6" vector-effect="non-scaling-stroke"/>
<ellipse rx="0.537" ry="0.270" transform="translate(292.50 236.30) scale(11.000 8.887) rotate(-45)" fill="#ff6767" stroke="#ff6767" stroke-width="0.6" vector-effect="non-scaling-stroke"/>
<ellipse rx="0.537" ry="0.270" transform="translate(303.50 236.30) scale(11.000 8.887) rotate(-45)" fill="#ff6767" stroke="#ff6767" stroke-width="0.6" vector-effect="non-scaling-stroke"/>
<ellipse rx="0.421" ry="0.429" transform="translate(314.50 236.30) scale(11.000 8.887) rotate(-45)" fill="#fafafd" stroke="#fafafd" stroke-width="0.6" vector-effect="non-scaling-stroke"/>
<ellipse rx="0.451" ry="0.397" transform="translate(325.50 236.30) scale(11.000 8.887) rotate(-45)" fill="#ffdede" stroke="#ffdede" stroke-width="0.6" vector-effect="non-scaling-stroke"/>
<ellipse rx="0.421" ry="0.429" transform="translate(336.50 236.30) scale(11.000 8.887) rotate(-45)" fill="#fafafd" stroke="#fafafd" stroke-width="0.6" vector-effect="non-scaling-stroke"/>
<ellipse rx="0.421" ry="0.429" transform="translate(347.50 236.30) scale(11.000 8.887) rotate(-45)" fill="#fafafd" stroke="#fafafd" stroke-width="0.6" vector-effect="non-scaling-stroke"/>
<ellipse rx="0.554" ry="0.234" transform="translate(358.50 236.30) scale(11.000 8.887) rotate(-45)" fill="#ff4d4d" stroke="#ff4d4d" stroke-width="0.6" vector-effect="non-scaling-stroke"/>
<ellipse rx="0.443" ry="0.407" transform="translate(160.50 245.19) scale(11.000 8.887) rotate(-45)" fill="#ffe9e9" stroke="#ffe9e9" stroke-width="0.6" vector-effect="non-scaling-stroke"/>
<ellipse rx="0.439" ry="0.410" transform="translate(171.50 245.19) scale(11.000 8.887) rotate(-45)" fill="#ffeeee" stroke="#ffeeee" stroke-width="0.6" vector-effect="non-scaling-stroke"/>
<ellipse rx="0.434" ry="0.416" transform="translate(182.50 245.19) scale(11.000 8.887) rotate(-45)" fill="#fff4f4" stroke="#fff4f4" stroke-width="0.6" vector-effect="non-scaling-stroke"/>
<ellipse rx="0.403" ry="0.446" transform="translate(193.50 245.19) scale(11.000 8.887) rotate(-45)" fill="#e5e5f6" stroke="#e5e5f6" stroke-width="0.6" vector-effect="non-scaling-stroke"/>
<ellipse rx="0.403" ry="0.446" transform="translate(204.50 245.19) scale(11.000 8.887) rotate(-45)" fill="#e5e5f6" stroke="#e5e5f6" stroke-width="0.6" vector-effect="non-scaling-stroke"/>
<ellipse rx="0.432" ry="0.418" transform="translate(215.50 245.19) scale(11.000 8.887) rotate(-45)" fill="#fff6f6" stroke="#fff6f6" stroke-width="0.6" vector-effect="non-scaling-stroke"/>
<ellipse rx="0.421" ry="0.429" transform="translate(226.50 245.19) scale(11.000 8.887) rotate(-45)" fill="#fafafd" stroke="#fafafd" stroke-width="0.6" vector-effect="non-scaling-stroke"/>
<ellipse rx="0.421" ry="0.429" transform="translate(237.50 245.19) scale(11.000 8.887) rotate(-45)" fill="#fafafd" stroke="#fafafd" stroke-width="0.6" vector-effect="non-scaling-stroke"/>
<ellipse rx="0.403" ry="0.446" transform="translate(248.50 245.19) scale(11.000 8.887) rotate(-45)" fill="#e5e5f6" stroke="#e5e5f6" stroke-width="0.6" vector-effect="non-scaling-stroke"/>
<ellipse rx="0.416" ry="0.434" transform="translate(259.50 245.19) scale(11.000 8.887) rotate(-45)" fill="#f4f4fb" stroke="#f4f4fb" stroke-width="0.6" vector-effect="non-scaling-stroke"/>
<ellipse rx="0.421" ry="0.429" transform="translate(270.50 245.19) scale(11.000 8.887) rotate(-45)" fill="#fafafd" stroke="#fafafd" stroke-width="0.6" vector-effect="non-scaling-stroke"/>
<ellipse rx="0.421" ry="0.429" transform="translate(281.50 245.19) scale(11.000 8.887) rotate(-45)" fill="#fafafd" stroke="#fafafd" stroke-width="0.6" vector-effect="non-scaling-stroke"/>
<ellipse rx="0.421" ry="0.429" transform="translate(292.50 245.19) scale(11.000 8.887) rotate(-45)" fill="#fafafd" stroke="#fafafd" stroke-width="0.6" vector-effect="non-scaling-stroke"/>
<ellipse rx="0.421" ry="0.429" transform="translate(303.50 245.19) scale(11.000 8.887) rotate(-45)" fill="#fafafd" stroke="#fafafd" stroke-width="0.6" vector-effect="non-scaling-stroke"/>
<ellipse rx="0.430" ry="0.420" transform="translate(314.50 245.19) scale(11.000 8.887) rotate(-45)" fill="#fff8f8" stroke="#fff8f8" stroke-width="0.6" vector-effect="non-scaling-stroke"/>
<ellipse rx="0.470" ry="0.375" transform="translate(325.50 245.19) scale(11.000 8.887) rotate(-45)" fill="#ffc7c7" stroke="#ffc7c7" stroke-width="0.6" vector-effect="non-scaling-stroke"/>
<ellipse rx="0.421" ry="0.429" transform="translate(336.50 245.19) scale(11.000 8.887) rotate(-45)" fill="#fafafd" stroke="#fafafd" stroke-width="0.6" vector-effect="non-scaling-stroke"/>
<ellipse rx="0.468" ry="0.377" transform="translate(347.50 245.19) scale(11.000 8.887) rotate(-45)" fill="#ffc9c9" stroke="#ffc9c9" stroke-width="0.6" vector-effect="non-scaling-stroke"/>
<ellipse rx="0.421" ry="0.429" transform="translate(358.50 245.19) scale(11.000 8.887) rotate(-45)" fill="#fafafd" stroke="#fafafd" stroke-width="0.6" vector-effect="non-scaling-stroke"/>
<ellipse rx="0.421" ry="0.429" transform="translate(369.50 245.19) scale(11.000 8.887) rotate(-45)" fill="#fafafd" stroke="#fafafd" stroke-width="0.6" vector-effect="non-scaling-stroke"/>
<ellipse rx="0.430" ry="0.420" transform="translate(160.50 254.07) scale(11.000 8.887) rotate(-45)" fill="#fff8f8" stroke="#fff8f8" stroke-width="0.6" vector-effect="non-scaling-stroke"/>
<ellipse rx="0.463" ry="0.383" transform="translate(171.50 254.07) scale(11.000 8.887) rotate(-45)" fill="#ffcfcf" stroke="#ffcfcf" stroke-width="0.6" vector-effect="non-scaling-stroke"/>
<ellipse rx="0.451" ry="0.397" transform="translate(182.50 254.07) scale(11.000 8.887) rotate(-45)" fill="#ffdede" stroke="#ffdede" stroke-width="0.6" vector-effect="non-scaling-stroke"/>
<ellipse rx="0.410" ry="0.439" transform="translate(193.50 254.07) scale(11.000 8.887) rotate(-45)" fill="#eeeef9" stroke="#eeeef9" stroke-width="0.6" vector-effect="non-scaling-stroke"/>
<ellipse rx="0.410" ry="0.439" transform="translate(204.50 254.07) scale(11.000 8.887) rotate(-45)" fill="#eeeef9" stroke="#eeeef9" stroke-width="0.6" vector-effect="non-scaling-stroke"/>
<ellipse rx="0.446" ry="0.403" transform="translate(215.50 254.07) scale(11.000 8.887) rotate(-45)" fill="#ffe5e5" stroke="#ffe5e5" stroke-width="0.6" vector-effect="non-scaling-stroke"/>
<ellipse rx="0.421" ry="0.429" transform="translate(226.50 254.07) scale(11.000 8.887) rotate(-45)" fill="#fafafd" stroke="#fafafd" stroke-width="0.6" vector-effect="non-scaling-stroke"/>
<ellipse rx="0.421" ry="0.429" transform="translate(237.50 254.07) scale(11.000 8.887) rotate(-45)" fill="#fafafd" stroke="#fafafd" stroke-width="0.6" vector-effect="non-scaling-stroke"/>
<ellipse rx="0.410" ry="0.439" transform="translate(248.50 254.07) scale(11.000 8.887) rotate(-45)" fill="#eeeef9" stroke="#eeeef9" stroke-width="0.6" vector-effect="non-scaling-stroke"/>
<ellipse rx="0.421" ry="0.429" transform="translate(259.50 254.07) scale(11.000 8.887) rotate(-45)" fill="#fafafd" stroke="#fafafd" stroke-width="0.6" vector-effect="non-scaling-stroke"/>
<ellipse rx="0.421" ry="0.429" transform="translate(270.50 254.07) scale(11.000 8.887) rotate(-45)" fill="#fafafd" stroke="#fafafd" stroke-width="0.6" vector-effect="non-scaling-stroke"/>
<ellipse rx="0.420" ry="0.430" transform="translate(281.50 254.07) scale(11.000 8.887) rotate(-45)" fill="#f8f8fd" stroke="#f8f8fd" stroke-width="0.6" vector-effect="non-scaling-stroke"/>
<ellipse rx="0.421" ry="0.429" transform="translate(292.50 254.07) scale(11.000 8.887) rotate(-45)" fill="#fafafd" stroke="#fafafd" stroke-width="0.6" vector-effect="non-scaling-stroke"/>
<ellipse rx="0.421" ry="0.429" transform="translate(303.50 254.07) scale(11.000 8.887) rotate(-45)" fill="#fafafd" stroke="#fafafd" stroke-width="0.6" vector-effect="non-scaling-stroke"/>
<ellipse rx="0.446" ry="0.403" transform="translate(314.50 254.07) scale(11.000 8.887) rotate(-45)" fill="#ffe5e5" stroke="#ffe5e5" stroke-width="0.6" vector-effect="non-scaling-stroke"/>
<ellipse rx="0.412" ry="0.437" transform="translate(325.50 254.07) scale(11.000 8.887) rotate(-45)" fill="#f0f0fa" stroke="#f0f0fa" stroke-width="0.6" vector-effect="non-scaling-stroke"/>
<ellipse rx="0.421" ry="0.429" transform="translate(336.50 254.07) scale(11.000 8.887) rotate(-45)" fill="#fafafd" stroke="#fafafd" stroke-width="0.6" vector-effect="non-scaling-stroke"/>
<ellipse rx="0.421" ry="0.429" transform="translate(347.50 254.07) scale(11.000 8.887) rotate(-45)" fill="#fafafd" stroke="#fafafd" stroke-width="0.6" vector-effect="non-scaling-stroke"/>
<ellipse rx="0.420" ry="0.430" transform="translate(358.50 254.07) scale(11.000 8.887) rotate(-45)" fill="#f8f8fd" stroke="#f8f8fd" stroke-width="0.6" vector-effect="non-scaling-stroke"/>
<ellipse rx="0.421" ry="0.429" transform="translate(369.50 254.07) scale(11.000 8.887) rotate(-45)" fill="#fafafd" stroke="#fafafd" stroke-width="0.6" vector-effect="non-scaling-stroke"/>
<ellipse rx="0.434" ry="0.416" transform="translate(380.50 254.07) scale(11.000 8.887) rotate(-45)" fill="#fff4f4" stroke="#fff4f4" stroke-width="0.6" vector-effect="non-scaling-stroke"/>
<ellipse rx="0.397" ry="0.451" transform="translate(160.50 262.96) scale(11.000 8.887) rotate(-45)" fill="#dedef4" stroke="#dedef4" stroke-width="0.6" vector-effect="non-scaling-stroke"/>
<ellipse rx="0.468" ry="0.377" transform="translate(171.50 262.96) scale(11.000 8.887) rotate(-45)" fill="#ffc9c9" stroke="#ffc9c9" stroke-width="0.6" vector-effect="non-scaling-stroke"/>
<ellipse rx="0.484" ry="0.356" transform="translate(182.50 262.96) scale(11.000 8.887) rotate(-45)" fill="#ffb3b3" stroke="#ffb3b3" stroke-width="0.6" vector-effect="non-scaling-stroke"/>
<ellipse rx="0.416" ry="0.434" transform="translate(193.50 262.96) scale(11.000 8.887) rotate(-45)" fill="#f4f4fb" stroke="#f4f4fb" stroke-width="0.6" vector-effect="non-scaling-stroke"/>
<ellipse rx="0.416" ry="0.434" transform="translate(204.50 262.96) scale(11.000 8.887) rotate(-45)" fill="#f4f4fb" stroke="#f4f4fb" stroke-width="0.6" vector-effect="non-scaling-stroke"/>
<ellipse rx="0.443" ry="0.407" transform="translate(215.50 262.96) scale(11.000 8.887) rotate(-45)" fill="#ffe9e9" stroke="#ffe9e9" stroke-width="0.6" vector-effect="non-scaling-stroke"/>
<ellipse rx="0.421" ry="0.429" transform="translate(226.50 262.96) scale(11.000 8.887) rotate(-45)" fill="#fafafd" stroke="#fafafd" stroke-width="0.6" vector-effect="non-scaling-stroke"/>
<ellipse rx="0.421" ry="0.429" transform="translate(237.50 262.96) scale(11.000 8.887) rotate(-45)" fill="#fafafd" stroke="#fafafd" stroke-width="0.6" vector-effect="non-scaling-stroke"/>
<ellipse rx="0.414" ry="0.436" transform="translate(248.50 262.96) scale(11.000 8.887) rotate(-45)" fill="#f2f2fb" stroke="#f2f2fb" stroke-width="0.6" vector-effect="non-scaling-stroke"/>
<ellipse rx="0.446" ry="0.403" transform="translate(259.50 262.96) scale(11.000 8.887) rotate(-45)" fill="#ffe5e5" stroke="#ffe5e5" stroke-width="0.6" vector-effect="non-scaling-stroke"/>
<ellipse rx="0.421" ry="0.429" transform="translate(270.50 262.96) scale(11.000 8.887) rotate(-45)" fill="#fafafd" stroke="#fafafd" stroke-width="0.6" vector-effect="non-scaling-stroke"/>
<ellipse rx="0.420" ry="0.430" transform="translate(281.50 262.96) scale(11.000 8.887) rotate(-45)" fill="#f8f8fd" stroke="#f8f8fd" stroke-width="0.6" vector-effect="non-scaling-stroke"/>
<ellipse rx="0.421" ry="0.429" transform="translate(292.50 262.96) scale(11.000 8.887) rotate(-45)" fill="#fafafd" stroke="#fafafd" stroke-width="0.6" vector-effect="non-scaling-stroke"/>
<ellipse rx="0.421" ry="0.429" transform="translate(303.50 262.96) scale(11.000 8.887) rotate(-45)" fill="#fafafd" stroke="#fafafd" stroke-width="0.6" vector-effect="non-scaling-stroke"/>
<ellipse rx="0.443" ry="0.407" transform="translate(314.50 262.96) scale(11.000 8.887) rotate(-45)" fill="#ffe9e9" stroke="#ffe9e9" stroke-width="0.6" vector-effect="non-scaling-stroke"/>
<ellipse rx="0.443" ry="0.407" transform="translate(325.50 262.96) scale(11.000 8.887) rotate(-45)" fill="#ffe9e9" stroke="#ffe9e9" stroke-width="0.6" vector-effect="non-scaling-stroke"/>
<ellipse rx="0.421" ry="0.429" transform="translate(336.50 262.96) scale(11.000 8.887) rotate(-45)" fill="#fafafd" stroke="#fafafd" stroke-width="0.6" vector-effect="non-scaling-stroke"/>
<ellipse rx="0.421" ry="0.429" transform="translate(347.50 262.96) scale(11.000 8.887) rotate(-45)" fill="#fafafd" stroke="#fafafd" stroke-width="0.6" vector-effect="non-scaling-stroke"/>
<ellipse rx="0.420" ry="0.430" transform="translate(358.50 262.96) scale(11.000 8.887) rotate(-45)" fill="#f8f8fd" stroke="#f8f8fd" stroke-width="0.6" vector-effect="non-scaling-stroke"/>
<ellipse rx="0.421" ry="0.429" transform="translate(369.50 262.96) scale(11.000 8.887) rotate(-45)" fill="#fafafd" stroke="#fafafd" stroke-width="0.6" vector-effect="non-scaling-stroke"/>
<ellipse rx="0.421" ry="0.429" transform="translate(380.50 262.96) scale(11.000 8.887) rotate(-45)" fill="#fafafd" stroke="#fafafd" stroke-width="0.6" vector-effect="non-scaling-stroke"/>
<ellipse rx="0.456" ry="0.391" transform="translate(391.50 262.96) scale(11.000 8.887) rotate(-45)" fill="#ffd8d8" stroke="#ffd8d8" stroke-width="0.6" vector-effect="non-scaling-stroke"/>
<ellipse rx="0.414" ry="0.436" transform="translate(160.50 271.85) scale(11.000 8.887) rotate(-45)" fill="#f2f2fb" stroke="#f2f2fb" stroke-width="0.6" vector-effect="non-scaling-stroke"/>
<ellipse rx="0.421" ry="0.429" transform="translate(171.50 271.85) scale(11.000 8.887) rotate(-45)" fill="#fafafd" stroke="#fafafd" stroke-width="0.6" vector-effect="non-scaling-stroke"/>
<ellipse rx="0.484" ry="0.356" transform="translate(182.50 271.85) scale(11.000 8.887) rotate(-45)" fill="#ffb3b3" stroke="#ffb3b3" stroke-width="0.6" vector-effect="non-scaling-stroke"/>
<ellipse rx="0.421" ry="0.429" transform="translate(193.50 271.85) scale(11.000 8.887) rotate(-45)" fill="#fafafd" stroke="#fafafd" stroke-width="0.6" vector-effect="non-scaling-stroke"/>
<ellipse rx="0.421" ry="0.429" transform="translate(204.50 271.85) scale(11.000 8.887) rotate(-45)" fill="#fafafd" stroke="#fafafd" stroke-width="0.6" vector-effect="non-scaling-stroke"/>
<ellipse rx="0.436" ry="0.414" transform="translate(215.50 271.85) scale(11.000 8.887) rotate(-45)" fill="#fff2f2" stroke="#fff2f2" stroke-width="0.6" vector-effect="non-scaling-stroke"/>
<ellipse rx="0.421" ry="0.429" transform="translate(226.50 271.85) scale(11.000 8.887) rotate(-45)" fill="#fafafd" stroke="#fafafd" stroke-width="0.6" vector-effect="non-scaling-stroke"/>
<ellipse rx="0.421" ry="0.429" transform="translate(237.50 271.85) scale(11.000 8.887) rotate(-45)" fill="#fafafd" stroke="#fafafd" stroke-width="0.6" vector-effect="non-scaling-stroke"/>
<ellipse rx="0.421" ry="0.429" transform="translate(248.50 271.85) scale(11.000 8.887) rotate(-45)" fill="#fafafd" stroke="#fafafd" stroke-width="0.6" vector-effect="non-scaling-stroke"/>
<ellipse rx="0.500" ry="0.334" transform="translate(259.50 271.85) scale(11.000 8.887) rotate(-45)" fill="#ff9d9d" stroke="#ff9d9d" stroke-width="0.6" vector-effect="non-scaling-stroke"/>
<ellipse rx="0.421" ry="0.429" transform="translate(270.50 271.85) scale(11.000 8.887) rotate(-45)" fill="#fafafd" stroke="#fafafd" stroke-width="0.6" vector-effect="non-scaling-stroke"/>
<ellipse rx="0.421" ry="0.429" transform="translate(281.50 271.85) scale(11.000 8.887) rotate(-45)" fill="#fafafd" stroke="#fafafd" stroke-width="0.6" vector-effect="non-scaling-stroke"/>
<ellipse rx="0.421" ry="0.429" transform="translate(292.50 271.85) scale(11.000 8.887) rotate(-45)" fill="#fafafd" stroke="#fafafd" stroke-width="0.6" vector-effect="non-scaling-stroke"/>
<ellipse rx="0.421" ry="0.429" transform="translate(303.50 271.85) scale(11.000 8.887) rotate(-45)" fill="#fafafd" stroke="#fafafd" stroke-width="0.6" vector-effect="non-scaling-stroke"/>
<ellipse rx="0.430" ry="0.420" transform="translate(314.50 271.85) scale(11.000 8.887) rotate(-45)" fill="#fff8f8" stroke="#fff8f8" stroke-width="0.6" vector-effect="non-scaling-stroke"/>
<ellipse rx="0.421" ry="0.429" transform="translate(325.50 271.85) scale(11.000 8.887) rotate(-45)" fill="#fafafd" stroke="#fafafd" stroke-width="0.6" vector-effect="non-scaling-stroke"/>
<ellipse rx="0.421" ry="0.429" transform="translate(336.50 271.85) scale(11.000 8.887) rotate(-45)" fill="#fafafd" stroke="#fafafd" stroke-width="0.6" vector-effect="non-scaling-stroke"/>
<ellipse rx="0.421" ry="0.429" transform="translate(347.50 271.85) scale(11.000 8.887) rotate(-45)" fill="#fafafd" stroke="#fafafd" stroke-width="0.6" vector-effect="non-scaling-stroke"/>
<ellipse rx="0.421" ry="0.429" transform="translate(358.50 271.85) scale(11.000 8.887) rotate(-45)" fill="#fafafd" stroke="#fafafd" stroke-width="0.6" vector-effect="non-scaling-stroke"/>
<ellipse rx="0.421" ry="0.429" transform="translate(369.50 271.85) scale(11.000 8.887) rotate(-45)" fill="#fafafd" stroke="#fafafd" stroke-width="0.6" vector-effect="non-scaling-stroke"/>
<ellipse rx="0.421" ry="0.429" transform="translate(380.50 271.85) scale(11.000 8.887) rotate(-45)" fill="#fafafd" stroke="#fafafd" stroke-width="0.6" vector-effect="non-scaling-stroke"/>
<ellipse rx="0.421" ry="0.429" transform="translate(391.50 271.85) scale(11.000 8.887) rotate(-45)" fill="#fafafd" stroke="#fafafd" stroke-width="0.6" vector-effect="non-scaling-stroke"/>
<ellipse rx="0.421" ry="0.429" transform="translate(402.50 271.85) scale(11.000 8.887) rotate(-45)" fill="#fafafd" stroke="#fafafd" stroke-width="0.6" vector-effect="non-scaling-stroke"/>
<ellipse rx="0.434" ry="0.416" transform="translate(160.50 280.73) scale(11.000 8.887) rotate(-45)" fill="#fff4f4" stroke="#fff4f4" stroke-width="0.6" vector-effect="non-scaling-stroke"/>
<ellipse rx="0.437" ry="0.412" transform="translate(171.50 280.73) scale(11.000 8.887) rotate(-45)" fill="#fff0f0" stroke="#fff0f0" stroke-width="0.6" vector-effect="non-scaling-stroke"/>
<ellipse rx="0.421" ry="0.429" transform="translate(182.50 280.73) scale(11.000 8.887) rotate(-45)" fill="#fafafd" stroke="#fafafd" stroke-width="0.6" vector-effect="non-scaling-stroke"/>
<ellipse rx="0.421" ry="0.429" transform="translate(193.50 280.73) scale(11.000 8.887) rotate(-45)" fill="#fafafd" stroke="#fafafd" stroke-width="0.6" vector-effect="non-scaling-stroke"/>
<ellipse rx="0.421" ry="0.429" transform="translate(204.50 280.73) scale(11.000 8.887) rotate(-45)" fill="#fafafd" stroke="#fafafd" stroke-width="0.6" vector-effect="non-scaling-stroke"/>
<ellipse rx="0.456" ry="0.391" transform="translate(215.50 280.73) scale(11.000 8.887) rotate(-45)" fill="#ffd8d8" stroke="#ffd8d8" stroke-width="0.6" vector-effect="non-scaling-stroke"/>
<ellipse rx="0.421" ry="0.429" transform="translate(226.50 280.73) scale(11.000 8.887) rotate(-45)" fill="#fafafd" stroke="#fafafd" stroke-width="0.6" vector-effect="non-scaling-stroke"/>
<ellipse rx="0.421" ry="0.429" transform="translate(237.50 280.73) scale(11.000 8.887) rotate(-45)" fill="#fafafd" stroke="#fafafd" stroke-width="0.6" vector-effect="non-scaling-stroke"/>
<ellipse rx="0.421" ry="0.429" transform="translate(248.50 280.73) scale(11.000 8.887) rotate(-45)" fill="#fafafd" stroke="#fafafd" stroke-width="0.6" vector-effect="non-scaling-stroke"/>
<ellipse rx="0.476" ry="0.367" transform="translate(259.50 280.73) scale(11.000 8.887) rotate(-45)" fill="#ffbebe" stroke="#ffbebe" stroke-width="0.6" vector-effect="non-scaling-stroke"/>
<ellipse rx="0.421" ry="0.429" transform="translate(270.50 280.73) scale(11.000 8.887) rotate(-45)" fill="#fafafd" stroke="#fafafd" stroke-width="0.6" vector-effect="non-scaling-stroke"/>
<ellipse rx="0.421" ry="0.429" transform="translate(281.50 280.73) scale(11.000 8.887) rotate(-45)" fill="#fafafd" stroke="#fafafd" stroke-width="0.6" vector-effect="non-scaling-stroke"/>
<ellipse rx="0.421" ry="0.429" transform="translate(292.50 280.73) scale(11.000 8.887) rotate(-45)" fill="#fafafd" stroke="#fafafd" stroke-width="0.6" vector-effect="non-scaling-stroke"/>
<ellipse rx="0.421" ry="0.429" transform="translate(303.50 280.73) scale(11.000 8.887) rotate(-45)" fill="#fafafd" stroke="#fafafd" stroke-width="0.6" vector-effect="non-scaling-stroke"/>
<ellipse rx="0.468" ry="0.377" transform="translate(314.50 280.73) scale(11.000 8.887) rotate(-45)" fill="#ffc9c9" stroke="#ffc9c9" stroke-width="0.6" vector-effect="non-scaling-stroke"/>
<ellipse rx="0.420" ry="0.430" transform="translate(325.50 280.73) scale(11.000 8.887) rotate(-45)" fill="#f8f8fd" stroke="#f8f8fd" stroke-width="0.6" vector-effect="non-scaling-stroke"/>
<ellipse rx="0.421" ry="0.429" transform="translate(336.50 280.73) scale(11.000 8.887) rotate(-45)" fill="#fafafd" stroke="#fafafd" stroke-width="0.6" vector-effect="non-scaling-stroke"/>
<ellipse rx="0.421" ry="0.429" transform="translate(347.50 280.73) scale(11.000 8.887) rotate(-45)" fill="#fafafd" stroke="#fafafd" stroke-width="0.6" vector-effect="non-scaling-stroke"/>
<ellipse rx="0.421" ry="0.429" transform="translate(358.50 280.73) scale(11.000 8.887) rotate(-45)" fill="#fafafd" stroke="#fafafd" stroke-width="0.6" vector-effect="non-scaling-stroke"/>
<ellipse rx="0.421" ry="0.429" transform="translate(369.50 280.73) scale(11.000 8.887) rotate(-45)" fill="#fafafd" stroke="#fafafd" stroke-width="0.6" vector-effect="non-scaling-stroke"/>
<ellipse rx="0.460" ry="0.387" transform="translate(380.50 280.73) scale(11.000 8.887) rotate(-45)" fill="#ffd4d4" stroke="#ffd4d4" stroke-width="0.6" vector-effect="non-scaling-stroke"/>
<ellipse rx="0.421" ry="0.429" transform="translate(391.50 280.73) scale(11.000 8.887) rotate(-45)" fill="#fafafd" stroke="#fafafd" stroke-width="0.6" vector-effect="non-scaling-stroke"/>
<ellipse rx="0.468" ry="0.377" transform="translate(402.50 280.73) scale(11.000 8.887) rotate(-45)" fill="#ffc9c9" stroke="#ffc9c9" stroke-width="0.6" vector-effect="non-scaling-stroke"/>
<ellipse rx="0.421" ry="0.429" transform="translate(413.50 280.73) scale(11.000 8.887) rotate(-45)" fill="#fafafd" stroke="#fafafd" stroke-width="0.6" vector-effect="non-scaling-stroke"/>
<ellipse rx="0.443" ry="0.407" transform="translate(160.50 289.62) scale(11.000 8.887) rotate(-45)" fill="#ffe9e9" stroke="#ffe9e9" stroke-width="0.6" vector-effect="non-scaling-stroke"/>
<ellipse rx="0.421" ry="0.429" transform="translate(171.50 289.62) scale(11.000 8.887) rotate(-45)" fill="#fafafd" stroke="#fafafd" stroke-width="0.6" vector-effect="non-scaling-stroke"/>
<ellipse rx="0.421" ry="0.429" transform="translate(182.50 289.62) scale(11.000 8.887) rotate(-45)" fill="#fafafd" stroke="#fafafd" stroke-width="0.6" vector-effect="non-scaling-stroke"/>
<ellipse rx="0.421" ry="0.429" transform="translate(193.50 289.62) scale(11.000 8.887) rotate(-45)" fill="#fafafd" stroke="#fafafd" stroke-width="0.6" vector-effect="non-scaling-stroke"/>
<ellipse rx="0.421" ry="0.429" transform="translate(204.50 289.62) scale(11.000 8.887) rotate(-45)" fill="#fafafd" stroke="#fafafd" stroke-width="0.6" vector-effect="non-scaling-stroke"/>
<ellipse rx="0.443" ry="0.407" transform="translate(215.50 289.62) scale(11.000 8.887) rotate(-45)" fill="#ffe9e9" stroke="#ffe9e9" stroke-width="0.6" vector-effect="non-scaling-stroke"/>
<ellipse rx="0.421" ry="0.429" transform="translate(226.50 289.62) scale(11.000 8.887) rotate(-45)" fill="#fafafd" stroke="#fafafd" stroke-width="0.6" vector-effect="non-scaling-stroke"/>
<ellipse rx="0.421" ry="0.429" transform="translate(237.50 289.62) scale(11.000 8.887) rotate(-45)" fill="#fafafd" stroke="#fafafd" stroke-width="0.6" vector-effect="non-scaling-stroke"/>
<ellipse rx="0.421" ry="0.429" transform="translate(248.50 289.62) scale(11.000 8.887) rotate(-45)" fill="#fafafd" stroke="#fafafd" stroke-width="0.6" vector-effect="non-scaling-stroke"/>
<ellipse rx="0.421" ry="0.429" transform="translate(259.50 289.62) scale(11.000 8.887) rotate(-45)" fill="#fafafd" stroke="#fafafd" stroke-width="0.6" vector-effect="non-scaling-stroke"/>
<ellipse rx="0.421" ry="0.429" transform="translate(270.50 289.62) scale(11.000 8.887) rotate(-45)" fill="#fafafd" stroke="#fafafd" stroke-width="0.6" vector-effect="non-scaling-stroke"/>
<ellipse rx="0.500" ry="0.334" transform="translate(281.50 289.62) scale(11.000 8.887) rotate(-45)" fill="#ff9d9d" stroke="#ff9d9d" stroke-width="0.6" vector-effect="non-scaling-stroke"/>
<ellipse rx="0.421" ry="0.429" transform="translate(292.50 289.62) scale(11.000 8.887) rotate(-45)" fill="#fafafd" stroke="#fafafd" stroke-width="0.6" vector-effect="non-scaling-stroke"/>
<ellipse rx="0.421" ry="0.429" transform="translate(303.50 289.62) scale(11.000 8.887) rotate(-45)" fill="#fafafd" stroke="#fafafd" stroke-width="0.6" vector-effect="non-scaling-stroke"/>
<ellipse rx="0.421" ry="0.429" transform="translate(314.50 289.62) scale(11.000 8.887) rotate(-45)" fill="#fafafd" stroke="#fafafd" stroke-width="0.6" vector-effect="non-scaling-stroke"/>
<ellipse rx="0.421" ry="0.429" transform="translate(325.50 289.62) scale(11.000 8.887) rotate(-45)" fill="#fafafd" stroke="#fafafd" stroke-width="0.6" vector-effect="non-scaling-stroke"/>
<ellipse rx="0.421" ry="0.429" transform="translate(336.50 289.62) scale(11.000 8.887) rotate(-45)" fill="#fafafd" stroke="#fafafd" stroke-width="0.6" vector-effect="non-scaling-stroke"/>
<ellipse rx="0.421" ry="0.429" transform="translate(347.50 289.62) scale(11.000 8.887) rotate(-45)" fill="#fafafd" stroke="#fafafd" stroke-width="0.6" vector-effect="non-scaling-stroke"/>
<ellipse rx="0.421" ry="0.429" transform="translate(358.50 289.62) scale(11.000 8.887) rotate(-45)" fill="#fafafd" stroke="#fafafd" stroke-width="0.6" vector-effect="non-scaling-stroke"/>
<ellipse rx="0.421" ry="0.429" transform="translate(369.50 289.62) scale(11.000 8.887) rotate(-45)" fill="#fafafd" stroke="#fafafd" stroke-width="0.6" vector-effect="non-scaling-stroke"/>
<ellipse rx="0.421" ry="0.429" transform="translate(380.50 289.62) scale(11.000 8.887) rotate(-45)" fill="#fafafd" stroke="#fafafd" stroke-width="0.6" vector-effect="non-scaling-stroke"/>
<ellipse rx="0.421" ry="0.429" transform="translate(391.50 289.62) scale(11.000 8.887) rotate(-45)" fill="#fafafd" stroke="#fafafd" stroke-width="0.6" vector-effect="non-scaling-stroke"/>
<ellipse rx="0.421" ry="0.429" transform="translate(402.50 289.62) scale(11.000 8.887) rotate(-45)" fill="#fafafd" stroke="#fafafd" stroke-width="0.6" vector-effect="non-scaling-stroke"/>
<ellipse rx="0.421" ry="0.429" transform="translate(413.50 289.62) scale(11.000 8.887) rotate(-45)" fill="#fafafd" stroke="#fafafd" stroke-width="0.6" vector-effect="non-scaling-stroke"/>
<ellipse rx="0.421" ry="0.429" transform="translate(424.50 289.62) scale(11.000 8.887) rotate(-45)" fill="#fafafd" stroke="#fafafd" stroke-width="0.6" vector-effect="non-scaling-stroke"/>
<ellipse rx="0.412" ry="0.437" transform="translate(160.50 298.51) scale(11.000 8.887) rotate(-45)" fill="#f0f0fa" stroke="#f0f0fa" stroke-width="0.6" vector-effect="non-scaling-stroke"/>
<ellipse rx="0.421" ry="0.429" transform="translate(171.50 298.51) scale(11.000 8.887) rotate(-45)" fill="#fafafd" stroke="#fafafd" stroke-width="0.6" vector-effect="non-scaling-stroke"/>
<ellipse rx="0.476" ry="0.367" transform="translate(182.50 298.51) scale(11.000 8.887) rotate(-45)" fill="#ffbebe" stroke="#ffbebe" stroke-width="0.6" vector-effect="non-scaling-stroke"/>
<ellipse rx="0.421" ry="0.429" transform="translate(193.50 298.51) scale(11.000 8.887) rotate(-45)" fill="#fafafd" stroke="#fafafd" stroke-width="0.6" vector-effect="non-scaling-stroke"/>
<ellipse rx="0.421" ry="0.429" transform="translate(204.50 298.51) scale(11.000 8.887) rotate(-45)" fill="#fafafd" stroke="#fafafd" stroke-width="0.6" vector-effect="non-scaling-stroke"/>
<ellipse rx="0.407" ry="0.443" transform="translate(215.50 298.51) scale(11.000 8.887) rotate(-45)" fill="#e9e9f8" stroke="#e9e9f8" stroke-width="0.6" vector-effect="non-scaling-stroke"/>
<ellipse rx="0.421" ry="0.429" transform="translate(226.50 298.51) scale(11.000 8.887) rotate(-45)" fill="#fafafd" stroke="#fafafd" stroke-width="0.6" vector-effect="non-scaling-stroke"/>
<ellipse rx="0.421" ry="0.429" transform="translate(237.50 298.51) scale(11.000 8.887) rotate(-45)" fill="#fafafd" stroke="#fafafd" stroke-width="0.6" vector-effect="non-scaling-stroke"/>
<ellipse rx="0.421" ry="0.429" transform="translate(248.50 298.51) scale(11.000 8.887) rotate(-45)" fill="#fafafd" stroke="#fafafd" stroke-width="0.6" vector-effect="non-scaling-stroke"/>
<ellipse rx="0.421" ry="0.429" transform="translate(259.50 298.51) scale(11.000 8.887) rotate(-45)" fill="#fafafd" stroke="#fafafd" stroke-width="0.6" vector-effect="non-scaling-stroke"/>
<ellipse rx="0.421" ry="0.429" transform="translate(270.50 298.51) scale(11.000 8.887) rotate(-45)" fill="#fafafd" stroke="#fafafd" stroke-width="0.6" vector-effect="non-scaling-stroke"/>
<ellipse rx="0.421" ry="0.429" transform="translate(281.50 298.51) scale(11.000 8.887) rotate(-45)" fill="#fafafd" stroke="#fafafd" stroke-width="0.6" vector-effect="non-scaling-stroke"/>
<ellipse rx="0.421" ry="0.429" transform="translate(292.50 298.51) scale(11.000 8.887) rotate(-45)" fill="#fafafd" stroke="#fafafd" stroke-width="0.6" vector-effect="non-scaling-stroke"/>
<ellipse rx="0.421" ry="0.429" transform="translate(303.50 298.51) scale(11.000 8.887) rotate(-45)" fill="#fafafd" stroke="#fafafd" stroke-width="0.6" vector-effect="non-scaling-stroke"/>
<ellipse rx="0.421" ry="0.429" transform="translate(314.50 298.51) scale(11.000 8.887) rotate(-45)" fill="#fafafd" stroke="#fafafd" stroke-width="0.6" vector-effect="non-scaling-stroke"/>
<ellipse rx="0.421" ry="0.429" transform="translate(325.50 298.51) scale(11.000 8.887) rotate(-45)" fill="#fafafd" stroke="#fafafd" stroke-width="0.6" vector-effect="non-scaling-stroke"/>
<ellipse rx="0.421" ry="0.429" transform="translate(336.50 298.51) scale(11.000 8.887) rotate(-45)" fill="#fafafd" stroke="#fafafd" stroke-width="0.6" vector-effect="non-scaling-stroke"/>
<ellipse rx="0.421" ry="0.429" transform="translate(347.50 298.51) scale(11.000 8.887) rotate(-45)" fill="#fafafd" stroke="#fafafd" stroke-width="0.6" vector-effect="non-scaling-stroke"/>
<ellipse rx="0.421" ry="0.429" transform="translate(358.50 298.51) scale(11.000 8.887) rotate(-45)" fill="#fafafd" stroke="#fafafd" stroke-width="0.6" vector-effect="non-scaling-stroke"/>
<ellipse rx="0.421" ry="0.429" transform="translate(369.50 298.51) scale(11.000 8.887) rotate(-45)" fill="#fafafd" stroke="#fafafd" stroke-width="0.6" vector-effect="non-scaling-stroke"/>
<ellipse rx="0.421" ry="0.429" transform="translate(380.50 298.51) scale(11.000 8.887) rotate(-45)" fill="#fafafd" stroke="#fafafd" stroke-width="0.6" vector-effect="non-scaling-stroke"/>
<ellipse rx="0.421" ry="0.429" transform="translate(391.50 298.51) scale(11.000 8.887) rotate(-45)" fill="#fafafd" stroke="#fafafd" stroke-width="0.6" vector-effect="non-scaling-stroke"/>
<ellipse rx="0.507" ry="0.322" transform="translate(402.50 298.51) scale(11.000 8.887) rotate(-45)" fill="#ff9393" stroke="#ff9393" stroke-width="0.6" vector-effect="non-scaling-stroke"/>
<ellipse rx="0.421" ry="0.429" transform="translate(413.50 298.51) scale(11.000 8.887) rotate(-45)" fill="#fafafd" stroke="#fafafd" stroke-width="0.6" vector-effect="non-scaling-stroke"/>
<ellipse rx="0.421" ry="0.429" transform="translate(424.50 298.51) scale(11.000 8.887) rotate(-45)" fill="#fafafd" stroke="#fafafd" stroke-width="0.6" vector-effect="non-scaling-stroke"/>
<ellipse rx="0.421" ry="0.429" transform="translate(435.50 298.51) scale(11.000 8.887) rotate(-45)" fill="#fafafd" stroke="#fafafd" stroke-width="0.6" vector-effect="non-scaling-stroke"/>
<ellipse rx="0.414" ry="0.436" transform="translate(160.50 307.40) scale(11.000 8.887) rotate(-45)" fill="#f2f2fb" stroke="#f2f2fb" stroke-width="0.6" vector-effect="non-scaling-stroke"/>
<ellipse rx="0.421" ry="0.429" transform="translate(171.50 307.40) scale(11.000 8.887) rotate(-45)" fill="#fafafd" stroke="#fafafd" stroke-width="0.6" vector-effect="non-scaling-stroke"/>
<ellipse rx="0.476" ry="0.367" transform="translate(182.50 307.40) scale(11.000 8.887) rotate(-45)" fill="#ffbebe" stroke="#ffbebe" stroke-width="0.6" vector-effect="non-scaling-stroke"/>
<ellipse rx="0.421" ry="0.429" transform="translate(193.50 307.40) scale(11.000 8.887) rotate(-45)" fill="#fafafd" stroke="#fafafd" stroke-width="0.6" vector-effect="non-scaling-stroke"/>
<ellipse rx="0.421" ry="0.429" transform="translate(204.50 307.40) scale(11.000 8.887) rotate(-45)" fill="#fafafd" stroke="#fafafd" stroke-width="0.6" vector-effect="non-scaling-stroke"/>
<ellipse rx="0.412" ry="0.437" transform="translate(215.50 307.40) scale(11.000 8.887) rotate(-45)" fill="#f0f0fa" stroke="#f0f0fa" stroke-width="0.6" vector-effect="non-scaling-stroke"/>
<ellipse rx="0.421" ry="0.429" transform="translate(226.50 307.40) scale(11.000 8.887) rotate(-45)" fill="#fafafd" stroke="#fafafd" stroke-width="0.6" vector-effect="non-scaling-stroke"/>
<ellipse rx="0.421" ry="0.429" transform="translate(237.50 307.40) scale(11.000 8.887) rotate(-45)" fill="#fafafd" stroke="#fafafd" stroke-width="0.6" vector-effect="non-scaling-stroke"/>
<ellipse rx="0.421" ry="0.429" transform="translate(248.50 307.40) scale(11.000 8.887) rotate(-45)" fill="#fafafd" stroke="#fafafd" stroke-width="0.6" vector-effect="non-scaling-stroke"/>
<ellipse rx="0.421" ry="0.429" transform="translate(259.50 307.40) scale(11.000 8.887) rotate(-45)" fill="#fafafd" stroke="#fafafd" stroke-width="0.6" vector-effect="non-scaling-stroke"/>
<ellipse rx="0.421" ry="0.429" transform="translate(270.50 307.40) scale(11.000 8.887) rotate(-45)" fill="#fafafd" stroke="#fafafd" stroke-width="0.6" vector-effect="non-scaling-stroke"/>
<ellipse rx="0.421" ry="0.429" transform="translate(281.50 307.40) scale(11.000 8.887) rotate(-45)" fill="#fafafd" stroke="#fafafd" stroke-width="0.6" vector-effect="non-scaling-stroke"/>
<ellipse rx="0.421" ry="0.429" transform="translate(292.50 307.40) scale(11.000 8.887) rotate(-45)" fill="#fafafd" stroke="#fafafd" stroke-width="0.6" vector-effect="non-scaling-stroke"/>
<ellipse rx="0.421" ry="0.429" transform="translate(303.50 307.40) scale(11.000 8.887) rotate(-45)" fill="#fafafd" stroke="#fafafd" stroke-width="0.6" vector-effect="non-scaling-stroke"/>
<ellipse rx="0.421" ry="0.429" transform="translate(314.50 307.40) scale(11.000 8.887) rotate(-45)" fill="#fafafd" stroke="#fafafd" stroke-width="0.6" vector-effect="non-scaling-stroke"/>
<ellipse rx="0.421" ry="0.429" transform="translate(325.50 307.40) scale(11.000 8.887) rotate(-45)" fill="#fafafd" stroke="#fafafd" stroke-width="0.6" vector-effect="non-scaling-stroke"/>
<ellipse rx="0.421" ry="0.429" transform="translate(336.50 307.40) scale(11.000 8.887) rotate(-45)" fill="#fafafd" stroke="#fafafd" stroke-width="0.6" vector-effect="non-scaling-stroke"/>
<ellipse rx="0.421" ry="0.429" transform="translate(347.50 307.40) scale(11.000 8.887) rotate(-45)" fill="#fafafd" stroke="#fafafd" stroke-width="0.6" vector-effect="non-scaling-stroke"/>
<ellipse rx="0.421" ry="0.429" transform="translate(358.50 307.40) scale(11.000 8.887) rotate(-45)" fill="#fafafd" stroke="#fafafd" stroke-width="0.6" vector-effect="non-scaling-stroke"/>
<ellipse rx="0.421" ry="0.429" transform="translate(369.50 307.40) scale(11.000 8.887) rotate(-45)" fill="#fafafd" stroke="#fafafd" stroke-width="0.6" vector-effect="non-scaling-stroke"/>
<ellipse rx="0.421" ry="0.429" transform="translate(380.50 307.40) scale(11.000 8.887) rotate(-45)" fill="#fafafd" stroke="#fafafd" stroke-width="0.6" vector-effect="non-scaling-stroke"/>
<ellipse rx="0.421" ry="0.429" transform="translate(391.50 307.40) scale(11.000 8.887) rotate(-45)" fill="#fafafd" stroke="#fafafd" stroke-width="0.6" vector-effect="non-scaling-stroke"/>
<ellipse rx="0.507" ry="0.322" transform="translate(402.50 307.40) scale(11.000 8.887) rotate(-45)" fill="#ff9393" stroke="#ff9393" stroke-width="0.6" vector-effect="non-scaling-stroke"/>
<ellipse rx="0.421" ry="0.429" transform="translate(413.50 307.40) scale(11.000 8.887) rotate(-45)" fill="#fafafd" stroke="#fafafd" stroke-width="0.6" vector-effect="non-scaling-stroke"/>
<ellipse rx="0.421" ry="0.429" transform="translate(424.50 307.40) scale(11.000 8.887) rotate(-45)" fill="#fafafd" stroke="#fafafd" stroke-width="0.6" vector-effect="non-scaling-stroke"/>
<ellipse rx="0.421" ry="0.429" transform="translate(435.50 307.40) scale(11.000 8.887) rotate(-45)" fill="#fafafd" stroke="#fafafd" stroke-width="0.6" vector-effect="non-scaling-stroke"/>
<ellipse rx="0.407" ry="0.443" transform="translate(160.50 316.28) scale(11.000 8.887) rotate(-45)" fill="#e9e9f8" stroke="#e9e9f8" stroke-width="0.6" vector-effect="non-scaling-stroke"/>
<ellipse rx="0.403" ry="0.446" transform="translate(171.50 316.28) scale(11.000 8.887) rotate(-45)" fill="#e5e5f6" stroke="#e5e5f6" stroke-width="0.6" vector-effect="non-scaling-stroke"/>
<ellipse rx="0.439" ry="0.410" transform="translate(182.50 316.28) scale(11.000 8.887) rotate(-45)" fill="#ffeeee" stroke="#ffeeee" stroke-width="0.6" vector-effect="non-scaling-stroke"/>
<ellipse rx="0.416" ry="0.434" transform="translate(193.50 316.28) scale(11.000 8.887) rotate(-45)" fill="#f4f4fb" stroke="#f4f4fb" stroke-width="0.6" vector-effect="non-scaling-stroke"/>
<ellipse rx="0.407" ry="0.443" transform="translate(204.50 316.28) scale(11.000 8.887) rotate(-45)" fill="#e9e9f8" stroke="#e9e9f8" stroke-width="0.6" vector-effect="non-scaling-stroke"/>
<ellipse rx="0.437" ry="0.412" transform="translate(215.50 316.28) scale(11.000 8.887) rotate(-45)" fill="#fff0f0" stroke="#fff0f0" stroke-width="0.6" vector-effect="non-scaling-stroke"/>
<ellipse rx="0.421" ry="0.429" transform="translate(226.50 316.28) scale(11.000 8.887) rotate(-45)" fill="#fafafd" stroke="#fafafd" stroke-width="0.6" vector-effect="non-scaling-stroke"/>
<ellipse rx="0.421" ry="0.429" transform="translate(237.50 316.28) scale(11.000 8.887) rotate(-45)" fill="#fafafd" stroke="#fafafd" stroke-width="0.6" vector-effect="non-scaling-stroke"/>
<ellipse rx="0.407" ry="0.443" transform="translate(248.50 316.28) scale(11.000 8.887) rotate(-45)" fill="#e9e9f8" stroke="#e9e9f8" stroke-width="0.6" vector-effect="non-scaling-stroke"/>
<ellipse rx="0.416" ry="0.434" transform="translate(259.50 316.28) scale(11.000 8.887) rotate(-45)" fill="#f4f4fb" stroke="#f4f4fb" stroke-width="0.6" vector-effect="non-scaling-stroke"/>
<ellipse rx="0.421" ry="0.429" transform="translate(270.50 316.28) scale(11.000 8.887) rotate(-45)" fill="#fafafd" stroke="#fafafd" stroke-width="0.6" vector-effect="non-scaling-stroke"/>
<ellipse rx="0.421" ry="0.429" transform="translate(281.50 316.28) scale(11.000 8.887) rotate(-45)" fill="#fafafd" stroke="#fafafd" stroke-width="0.6" vector-effect="non-scaling-stroke"/>
<ellipse rx="0.540" ry="0.265" transform="translate(292.50 316.28) scale(11.000 8.887) rotate(-45)" fill="#ff6363" stroke="#ff6363" stroke-width="0.6" vector-effect="non-scaling-stroke"/>
<ellipse rx="0.537" ry="0.270" transform="translate(303.50 316.28) scale(11.000 8.887) rotate(-45)" fill="#ff6767" stroke="#ff6767" stroke-width="0.6" vector-effect="non-scaling-stroke"/>
<ellipse rx="0.421" ry="0.429" transform="translate(314.50 316.28) scale(11.000 8.887) rotate(-45)" fill="#fafafd" stroke="#fafafd" stroke-width="0.6" vector-effect="non-scaling-stroke"/>
<ellipse rx="0.420" ry="0.430" transform="translate(325.50 316.28) scale(11.000 8.887) rotate(-45)" fill="#f8f8fd" stroke="#f8f8fd" stroke-width="0.6" vector-effect="non-scaling-stroke"/>
<ellipse rx="0.421" ry="0.429" transform="translate(336.50 316.28) scale(11.000 8.887) rotate(-45)" fill="#fafafd" stroke="#fafafd" stroke-width="0.6" vector-effect="non-scaling-stroke"/>
<ellipse rx="0.421" ry="0.429" transform="translate(347.50 316.28) scale(11.000 8.887) rotate(-45)" fill="#fafafd" stroke="#fafafd" stroke-width="0.6" vector-effect="non-scaling-stroke"/>
<ellipse rx="0.421" ry="0.429" transform="translate(358.50 316.28) scale(11.000 8.887) rotate(-45)" fill="#fafafd" stroke="#fafafd" stroke-width="0.6" vector-effect="non-scaling-stroke"/>
<ellipse rx="0.500" ry="0.334" transform="translate(369.50 316.28) scale(11.000 8.887) rotate(-45)" fill="#ff9d9d" stroke="#ff9d9d" stroke-width="0.6" vector-effect="non-scaling-stroke"/>
<ellipse rx="0.420" ry="0.430" transform="translate(380.50 316.28) scale(11.000 8.887) rotate(-45)" fill="#f8f8fd" stroke="#f8f8fd" stroke-width="0.6" vector-effect="non-scaling-stroke"/>
<ellipse rx="0.420" ry="0.430" transform="translate(391.50 316.28) scale(11.000 8.887) rotate(-45)" fill="#f8f8fd" stroke="#f8f8fd" stroke-width="0.6" vector-effect="non-scaling-stroke"/>
<ellipse rx="0.420" ry="0.430" transform="translate(402.50 316.28) scale(11.000 8.887) rotate(-45)" fill="#f8f8fd" stroke="#f8f8fd" stroke-width="0.6" vector-effect="non-scaling-stroke"/>
<ellipse rx="0.421" ry="0.429" transform="translate(413.50 316.28) scale(11.000 8.887) rotate(-45)" fill="#fafafd" stroke="#fafafd" stroke-width="0.6" vector-effect="non-scaling-stroke"/>
<ellipse rx="0.421" ry="0.429" transform="translate(424.50 316.28) scale(11.000 8.887) rotate(-45)" fill="#fafafd" stroke="#fafafd" stroke-width="0.6" vector-effect="non-scaling-stroke"/>
<ellipse rx="0.421" ry="0.429" transform="translate(435.50 316.28) scale(11.000 8.887) rotate(-45)" fill="#fafafd" stroke="#fafafd" stroke-width="0.6" vector-effect="non-scaling-stroke"/>
<ellipse rx="0.421" ry="0.429" transform="translate(446.50 316.28) scale(11.000 8.887) rotate(-45)" fill="#fafafd" stroke="#fafafd" stroke-width="0.6" vector-effect="non-scaling-stroke"/>
<ellipse rx="0.421" ry="0.429" transform="translate(457.50 316.28) scale(11.000 8.887) rotate(-45)" fill="#fafafd" stroke="#fafafd" stroke-width="0.6" vector-effect="non-scaling-stroke"/>
<ellipse rx="0.425" ry="0.425" transform="translate(160.50 325.17) scale(11.000 8.887) rotate(-45)" fill="#ffffff" stroke="#ffffff" stroke-width="0.6" vector-effect="non-scaling-stroke"/>
<ellipse rx="0.407" ry="0.443" transform="translate(171.50 325.17) scale(11.000 8.887) rotate(-45)" fill="#e9e9f8" stroke="#e9e9f8" stroke-width="0.6" vector-effect="non-scaling-stroke"/>
<ellipse rx="0.476" ry="0.367" transform="translate(182.50 325.17) scale(11.000 8.887) rotate(-45)" fill="#ffbebe" stroke="#ffbebe" stroke-width="0.6" vector-effect="non-scaling-stroke"/>
<ellipse rx="0.416" ry="0.434" transform="translate(193.50 325.17) scale(11.000 8.887) rotate(-45)" fill="#f4f4fb" stroke="#f4f4fb" stroke-width="0.6" vector-effect="non-scaling-stroke"/>
<ellipse rx="0.410" ry="0.439" transform="translate(204.50 325.17) scale(11.000 8.887) rotate(-45)" fill="#eeeef9" stroke="#eeeef9" stroke-width="0.6" vector-effect="non-scaling-stroke"/>
<ellipse rx="0.403" ry="0.446" transform="translate(215.50 325.17) scale(11.000 8.887) rotate(-45)" fill="#e5e5f6" stroke="#e5e5f6" stroke-width="0.6" vector-effect="non-scaling-stroke"/>
<ellipse rx="0.421" ry="0.429" transform="translate(226.50 325.17) scale(11.000 8.887) rotate(-45)" fill="#fafafd" stroke="#fafafd" stroke-width="0.6" vector-effect="non-scaling-stroke"/>
<ellipse rx="0.421" ry="0.429" transform="translate(237.50 325.17) scale(11.000 8.887) rotate(-45)" fill="#fafafd" stroke="#fafafd" stroke-width="0.6" vector-effect="non-scaling-stroke"/>
<ellipse rx="0.407" ry="0.443" transform="translate(248.50 325.17) scale(11.000 8.887) rotate(-45)" fill="#e9e9f8" stroke="#e9e9f8" stroke-width="0.6" vector-effect="non-scaling-stroke"/>
<ellipse rx="0.468" ry="0.377" transform="translate(259.50 325.17) scale(11.000 8.887) rotate(-45)" fill="#ffc9c9" stroke="#ffc9c9" stroke-width="0.6" vector-effect="non-scaling-stroke"/>
<ellipse rx="0.421" ry="0.429" transform="translate(270.50 325.17) scale(11.000 8.887) rotate(-45)" fill="#fafafd" stroke="#fafafd" stroke-width="0.6" vector-effect="non-scaling-stroke"/>
<ellipse rx="0.421" ry="0.429" transform="translate(281.50 325.17) scale(11.000 8.887) rotate(-45)" fill="#fafafd" stroke="#fafafd" stroke-width="0.6" vector-effect="non-scaling-stroke"/>
<ellipse rx="0.421" ry="0.429" transform="translate(292.50 325.17) scale(11.000 8.887) rotate(-45)" fill="#fafafd" stroke="#fafafd" stroke-width="0.6" vector-effect="non-scaling-stroke"/>
<ellipse rx="0.421" ry="0.429" transform="translate(303.50 325.17) scale(11.000 8.887) rotate(-45)" fill="#fafafd" stroke="#fafafd" stroke-width="0.6" vector-effect="non-scaling-stroke"/>
<ellipse rx="0.484" ry="0.356" transform="translate(314.50 325.17) scale(11.000 8.887) rotate(-45)" fill="#ffb3b3" stroke="#ffb3b3" stroke-width="0.6" vector-effect="non-scaling-stroke"/>
<ellipse rx="0.421" ry="0.429" transform="translate(325.50 325.17) scale(11.000 8.887) rotate(-45)" fill="#fafafd" stroke="#fafafd" stroke-width="0.6" vector-effect="non-scaling-stroke"/>
<ellipse rx="0.421" ry="0.429" transform="translate(336.50 325.17) scale(11.000 8.887) rotate(-45)" fill="#fafafd" stroke="#fafafd" stroke-width="0.6" vector-effect="non-scaling-stroke"/>
<ellipse rx="0.421" ry="0.429" transform="translate(347.50 325.17) scale(11.000 8.887) rotate(-45)" fill="#fafafd" stroke="#fafafd" stroke-width="0.6" vector-effect="non-scaling-stroke"/>
<ellipse rx="0.421" ry="0.429" transform="translate(358.50 325.17) scale(11.000 8.887) rotate(-45)" fill="#fafafd" stroke="#fafafd" stroke-width="0.6" vector-effect="non-scaling-stroke"/>
<ellipse rx="0.421" ry="0.429" transform="translate(369.50 325.17) scale(11.000 8.887) rotate(-45)" fill="#fafafd" stroke="#fafafd" stroke-width="0.6" vector-effect="non-scaling-stroke"/>
<ellipse rx="0.421" ry="0.429" transform="translate(380.50 325.17) scale(11.000 8.887) rotate(-45)" fill="#fafafd" stroke="#fafafd" stroke-width="0.6" vector-effect="non-scaling-stroke"/>
<ellipse rx="0.421" ry="0.429" transform="translate(391.50 325.17) scale(11.000 8.887) rotate(-45)" fill="#fafafd" stroke="#fafafd" stroke-width="0.6" vector-effect="non-scaling-stroke"/>
<ellipse rx="0.421" ry="0.429" transform="translate(402.50 325.17) scale(11.000 8.887) rotate(-45)" fill="#fafafd" stroke="#fafafd" stroke-width="0.6" vector-effect="non-scaling-stroke"/>
<ellipse rx="0.421" ry="0.429" transform="translate(413.50 325.17) scale(11.000 8.887) rotate(-45)" fill="#fafafd" stroke="#fafafd" stroke-width="0.6" vector-effect="non-scaling-stroke"/>
<ellipse rx="0.421" ry="0.429" transform="translate(424.50 325.17) scale(11.000 8.887) rotate(-45)" fill="#fafafd" stroke="#fafafd" stroke-width="0.6" vector-effect="non-scaling-stroke"/>
<ellipse rx="0.421" ry="0.429" transform="translate(435.50 325.17) scale(11.000 8.887) rotate(-45)" fill="#fafafd" stroke="#fafafd" stroke-width="0.6" vector-effect="non-scaling-stroke"/>
<ellipse rx="0.421" ry="0.429" transform="translate(446.50 325.17) scale(11.000 8.887) rotate(-45)" fill="#fafafd" stroke="#fafafd" stroke-width="0.6" vector-effect="non-scaling-stroke"/>
<ellipse rx="0.421" ry="0.429" transform="translate(457.50 325.17) scale(11.000 8.887) rotate(-45)" fill="#fafafd" stroke="#fafafd" stroke-width="0.6" vector-effect="non-scaling-stroke"/>
<ellipse rx="0.421" ry="0.429" transform="translate(468.50 325.17) scale(11.000 8.887) rotate(-45)" fill="#fafafd" stroke="#fafafd" stroke-width="0.6" vector-effect="non-scaling-stroke"/>
<ellipse rx="0.434" ry="0.416" transform="translate(160.50 334.06) scale(11.000 8.887) rotate(-45)" fill="#fff4f4" stroke="#fff4f4" stroke-width="0.6" vector-effect="non-scaling-stroke"/>
<ellipse rx="0.375" ry="0.470" transform="translate(171.50 334.06) scale(11.000 8.887) rotate(-45)" fill="#c7c7ec" stroke="#c7c7ec" stroke-width="0.6" vector-effect="non-scaling-stroke"/>
<ellipse rx="0.375" ry="0.470" transform="translate(182.50 334.06) scale(11.000 8.887) rotate(-45)" fill="#c7c7ec" stroke="#c7c7ec" stroke-width="0.6" vector-effect="non-scaling-stroke"/>
<ellipse rx="0.451" ry="0.397" transform="translate(193.50 334.06) scale(11.000 8.887) rotate(-45)" fill="#ffdede" stroke="#ffdede" stroke-width="0.6" vector-effect="non-scaling-stroke"/>
<ellipse rx="0.451" ry="0.397" transform="translate(204.50 334.06) scale(11.000 8.887) rotate(-45)" fill="#ffdede" stroke="#ffdede" stroke-width="0.6" vector-effect="non-scaling-stroke"/>
<ellipse rx="0.373" ry="0.471" transform="translate(215.50 334.06) scale(11.000 8.887) rotate(-45)" fill="#c4c4eb" stroke="#c4c4eb" stroke-width="0.6" vector-effect="non-scaling-stroke"/>
<ellipse rx="0.421" ry="0.429" transform="translate(226.50 334.06) scale(11.000 8.887) rotate(-45)" fill="#fafafd" stroke="#fafafd" stroke-width="0.6" vector-effect="non-scaling-stroke"/>
<ellipse rx="0.421" ry="0.429" transform="translate(237.50 334.06) scale(11.000 8.887) rotate(-45)" fill="#fafafd" stroke="#fafafd" stroke-width="0.6" vector-effect="non-scaling-stroke"/>
<ellipse rx="0.451" ry="0.397" transform="translate(248.50 334.06) scale(11.000 8.887) rotate(-45)" fill="#ffdede" stroke="#ffdede" stroke-width="0.6" vector-effect="non-scaling-stroke"/>
<ellipse rx="0.403" ry="0.446" transform="translate(259.50 334.06) scale(11.000 8.887) rotate(-45)" fill="#e5e5f6" stroke="#e5e5f6" stroke-width="0.6" vector-effect="non-scaling-stroke"/>
<ellipse rx="0.430" ry="0.420" transform="translate(270.50 334.06) scale(11.000 8.887) rotate(-45)" fill="#fff8f8" stroke="#fff8f8" stroke-width="0.6" vector-effect="non-scaling-stroke"/>
<ellipse rx="0.434" ry="0.416" transform="translate(281.50 334.06) scale(11.000 8.887) rotate(-45)" fill="#fff4f4" stroke="#fff4f4" stroke-width="0.6" vector-effect="non-scaling-stroke"/>
<ellipse rx="0.377" ry="0.468" transform="translate(292.50 334.06) scale(11.000 8.887) rotate(-45)" fill="#c9c9ed" stroke="#c9c9ed" stroke-width="0.6" vector-effect="non-scaling-stroke"/>
<ellipse rx="0.377" ry="0.468" transform="translate(303.50 334.06) scale(11.000 8.887) rotate(-45)" fill="#c9c9ed" stroke="#c9c9ed" stroke-width="0.6" vector-effect="non-scaling-stroke"/>
<ellipse rx="0.421" ry="0.429" transform="translate(314.50 334.06) scale(11.000 8.887) rotate(-45)" fill="#fafafd" stroke="#fafafd" stroke-width="0.6" vector-effect="non-scaling-stroke"/>
<ellipse rx="0.377" ry="0.468" transform="translate(325.50 334.06) scale(11.000 8.887) rotate(-45)" fill="#c9c9ed" stroke="#c9c9ed" stroke-width="0.6" vector-effect="non-scaling-stroke"/>
<ellipse rx="0.377" ry="0.468" transform="translate(336.50 334.06) scale(11.000 8.887) rotate(-45)" fill="#c9c9ed" stroke="#c9c9ed" stroke-width="0.6" vector-effect="non-scaling-stroke"/>
<ellipse rx="0.434" ry="0.416" transform="translate(347.50 334.06) scale(11.000 8.887) rotate(-45)" fill="#fff4f4" stroke="#fff4f4" stroke-width="0.6" vector-effect="non-scaling-stroke"/>
<ellipse rx="0.377" ry="0.468" transform="translate(358.50 334.06) scale(11.000 8.887) rotate(-45)" fill="#c9c9ed" stroke="#c9c9ed" stroke-width="0.6" vector-effect="non-scaling-stroke"/>
<ellipse rx="0.377" ry="0.468" transform="translate(369.50 334.06) scale(11.000 8.887) rotate(-45)" fill="#c9c9ed" stroke="#c9c9ed" stroke-width="0.6" vector-effect="non-scaling-stroke"/>
<ellipse rx="0.425" ry="0.425" transform="translate(380.50 334.06) scale(11.000 8.887) rotate(-45)" fill="#ffffff" stroke="#ffffff" stroke-width="0.6" vector-effect="non-scaling-stroke"/>
<ellipse rx="0.434" ry="0.416" transform="translate(391.50 334.06) scale(11.000 8.887) rotate(-45)" fill="#fff4f4" stroke="#fff4f4" stroke-width="0.6" vector-effect="non-scaling-stroke"/>
<ellipse rx="0.421" ry="0.429" transform="translate(402.50 334.06) scale(11.000 8.887) rotate(-45)" fill="#fafafd" stroke="#fafafd" stroke-width="0.6" vector-effect="non-scaling-stroke"/>
<ellipse rx="0.421" ry="0.429" transform="translate(413.50 334.06) scale(11.000 8.887) rotate(-45)" fill="#fafafd" stroke="#fafafd" stroke-width="0.6" vector-effect="non-scaling-stroke"/>
<ellipse rx="0.421" ry="0.429" transform="translate(424.50 334.06) scale(11.000 8.887) rotate(-45)" fill="#fafafd" stroke="#fafafd" stroke-width="0.6" vector-effect="non-scaling-stroke"/>
<ellipse rx="0.421" ry="0.429" transform="translate(435.50 334.06) scale(11.000 8.887) rotate(-45)" fill="#fafafd" stroke="#fafafd" stroke-width="0.6" vector-effect="non-scaling-stroke"/>
<ellipse rx="0.377" ry="0.468" transform="translate(446.50 334.06) scale(11.000 8.887) rotate(-45)" fill="#c9c9ed" stroke="#c9c9ed" stroke-width="0.6" vector-effect="non-scaling-stroke"/>
<ellipse rx="0.377" ry="0.468" transform="translate(457.50 334.06) scale(11.000 8.887) rotate(-45)" fill="#c9c9ed" stroke="#c9c9ed" stroke-width="0.6" vector-effect="non-scaling-stroke"/>
<ellipse rx="0.403" ry="0.446" transform="translate(468.50 334.06) scale(11.000 8.887) rotate(-45)" fill="#e5e5f6" stroke="#e5e5f6" stroke-width="0.6" vector-effect="non-scaling-stroke"/>
<ellipse rx="0.434" ry="0.416" transform="translate(479.50 334.06) scale(11.000 8.887) rotate(-45)" fill="#fff4f4" stroke="#fff4f4" stroke-width="0.6" vector-effect="non-scaling-stroke"/>
<path d="M155.82 71.22L165.18 63.67M166.82 80.11L176.18 72.55M177.82 88.99L187.18 81.44M188.82 97.88L198.18 90.33M199.82 106.77L209.18 99.21M210.82 115.66L220.18 108.10M221.82 124.54L231.18 116.99M232.82 133.43L242.18 125.88M243.82 142.32L253.18 134.76M254.82 151.20L264.18 143.65M265.82 160.09L275.18 152.54M276.82 168.98L286.18 161.42M287.82 177.87L297.18 170.31M298.82 186.75L308.18 179.20M309.82 195.64L319.18 188.09M320.82 204.53L330.18 196.97M331.82 213.41L341.18 205.86M342.82 222.30L352.18 214.75M353.82 231.19L363.18 223.63M364.82 240.08L374.18 232.52M375.82 248.96L385.18 241.41M386.82 257.85L396.18 250.30M397.82 266.74L407.18 259.18M408.82 275.62L418.18 268.07M419.82 284.51L429.18 276.96M430.82 293.40L440.18 285.84M441.82 302.29L451.18 294.73M452.82 311.17L462.18 303.62M463.82 320.06L473.18 312.51M474.82 328.95L484.18 321.39M485.82 337.83L495.18 330.28M221.82 133.43L231.18 125.88M287.82 186.75L297.18 179.20M441.82 311.17L451.18 303.62" stroke="#ff2a2a" stroke-width="1.15" fill="none"/>
<path d="M155 63V338.9H497" stroke="#2a2a2a" stroke-width="1.6" fill="none"/>
<text x="149" y="71.24" font-size="9.12" text-anchor="end">rash</text>
<text x="149" y="80.11" font-size="9.12" text-anchor="end">skin lesions</text>
<text x="149" y="88.97" font-size="9.12" text-anchor="end">headache</text>
<text x="149" y="97.83" font-size="9.12" text-anchor="end">ulcerative lesions</text>
<text x="149" y="106.70" font-size="9.12" text-anchor="end">oral and genital ulcers</text>
<text x="149" y="115.56" font-size="9.12" text-anchor="end">fever</text>
<text x="149" y="124.43" font-size="9.12" text-anchor="end">perianal papules</text>
<text x="149" y="133.29" font-size="9.12" text-anchor="end">inguinal adenopathy</text>
<text x="149" y="142.15" font-size="9.12" text-anchor="end">genital ulcer lesions</text>
<text x="149" y="151.02" font-size="9.12" text-anchor="end">pustules</text>
<text x="149" y="159.88" font-size="9.12" text-anchor="end">cough</text>
<text x="149" y="168.74" font-size="9.12" text-anchor="end">blisters</text>
<text x="149" y="177.61" font-size="9.12" text-anchor="end">erythema with vesicles and papules</text>
<text x="149" y="186.47" font-size="9.12" text-anchor="end">difficulty breathing</text>
<text x="149" y="195.34" font-size="9.12" text-anchor="end">fatigue</text>
<text x="149" y="204.20" font-size="9.12" text-anchor="end">muscle pain</text>
<text x="149" y="213.06" font-size="9.12" text-anchor="end">chest</text>
<text x="149" y="221.93" font-size="9.12" text-anchor="end">chills</text>
<text x="149" y="230.79" font-size="9.12" text-anchor="end">itch</text>
<text x="149" y="239.66" font-size="9.12" text-anchor="end">papules</text>
<text x="149" y="248.52" font-size="9.12" text-anchor="end">swollen lymph nodes</text>
<text x="149" y="257.38" font-size="9.12" text-anchor="end">sore throat</text>
<text x="149" y="266.25" font-size="9.12" text-anchor="end">malaise</text>
<text x="149" y="275.11" font-size="9.12" text-anchor="end">asthenia</text>
<text x="149" y="283.97" font-size="9.12" text-anchor="end">diarrhea</text>
<text x="149" y="292.84" font-size="9.12" text-anchor="end">pain urinating</text>
<text x="149" y="301.70" font-size="9.12" text-anchor="end">ulcers</text>
<text x="149" y="310.57" font-size="9.12" text-anchor="end">loss of appetite</text>
<text x="149" y="319.43" font-size="9.12" text-anchor="end">vesicles</text>
<text x="149" y="328.29" font-size="9.12" text-anchor="end">myalgias</text>
<text x="149" y="337.16" font-size="9.12" text-anchor="end">status</text>
<text transform="translate(163.70 58.10) rotate(-90)" font-size="9.12">rash</text>
<text transform="translate(174.70 67.03) rotate(-90)" font-size="9.12">skin lesions</text>
<text transform="translate(185.70 75.96) rotate(-90)" font-size="9.12">headache</text>
<text transform="translate(196.70 84.89) rotate(-90)" font-size="9.12">ulcerative lesions</text>
<text transform="translate(207.70 93.82) rotate(-90)" font-size="9.12">oral and genital ulcers</text>
<text transform="translate(218.70 102.75) rotate(-90)" font-size="9.12">fever</text>
<text transform="translate(229.70 111.68) rotate(-90)" font-size="9.12">perianal papules</text>
<text transform="translate(240.70 120.61) rotate(-90)" font-size="9.12">inguinal adenopathy</text>
<text transform="translate(251.70 129.54) rotate(-90)" font-size="9.12">genital ulcer lesions</text>
<text transform="translate(262.70 138.47) rotate(-90)" font-size="9.12">pustules</text>
<text transform="translate(273.70 147.40) rotate(-90)" font-size="9.12">cough</text>
<text transform="translate(284.70 156.33) rotate(-90)" font-size="9.12">blisters</text>
<text transform="translate(295.70 165.27) rotate(-90)" font-size="9.12">erythema with vesicles and papules</text>
<text transform="translate(306.70 174.20) rotate(-90)" font-size="9.12">difficulty breathing</text>
<text transform="translate(317.70 183.13) rotate(-90)" font-size="9.12">fatigue</text>
<text transform="translate(328.70 192.06) rotate(-90)" font-size="9.12">muscle pain</text>
<text transform="translate(339.70 200.99) rotate(-90)" font-size="9.12">chest</text>
<text transform="translate(350.70 209.92) rotate(-90)" font-size="9.12">chills</text>
<text transform="translate(361.70 218.85) rotate(-90)" font-size="9.12">itch</text>
<text transform="translate(372.70 227.78) rotate(-90)" font-size="9.12">papules</text>
<text transform="translate(383.70 236.71) rotate(-90)" font-size="9.12">swollen lymph nodes</text>
<text transform="translate(394.70 245.64) rotate(-90)" font-size="9.12">sore throat</text>
<text transform="translate(405.70 254.57) rotate(-90)" font-size="9.12">malaise</text>
<text transform="translate(416.70 263.50) rotate(-90)" font-size="9.12">asthenia</text>
<text transform="translate(427.70 272.43) rotate(-90)" font-size="9.12">diarrhea</text>
<text transform="translate(438.70 281.36) rotate(-90)" font-size="9.12">pain urinating</text>
<text transform="translate(449.70 290.29) rotate(-90)" font-size="9.12">ulcers</text>
<text transform="translate(460.70 299.22) rotate(-90)" font-size="9.12">loss of appetite</text>
<text transform="translate(471.70 308.15) rotate(-90)" font-size="9.12">vesicles</text>
<text transform="translate(482.70 317.08) rotate(-90)" font-size="9.12">myalgias</text>
<text transform="translate(493.70 326.01) rotate(-90)" font-size="9.12">status</text>
<rect x="501.50" y="63.20" width="19.30" height="3.06" fill="#ff0303"/>
<rect x="501.50" y="65.96" width="19.30" height="3.06" fill="#ff0808"/>
<rect x="501.50" y="68.72" width="19.30" height="3.06" fill="#ff0d0d"/>
<rect x="501.50" y="71.47" width="19.30" height="3.06" fill="#ff1212"/>
<rect x="501.50" y="74.23" width="19.30" height="3.06" fill="#ff1717"/>
<rect x="501.50" y="76.99" width="19.30" height="3.06" fill="#ff1c1c"/>
<rect x="501.50" y="79.75" width="19.30" height="3.06" fill="#ff2121"/>
<rect x="501.50" y="82.51" width="19.30" height="3.06" fill="#ff2626"/>
<rect x="501.50" y="85.26" width="19.30" height="3.06" fill="#ff2b2b"/>
<rect x="501.50" y="88.02" width="19.30" height="3.06" fill="#ff3030"/>
<rect x="501.50" y="90.78" width="19.30" height="3.06" fill="#ff3636"/>
<rect x="501.50" y="93.54" width="19.30" height="3.06" fill="#ff3b3b"/>
<rect x="501.50" y="96.30" width="19.30" height="3.06" fill="#ff4040"/>
<rect x="501.50" y="99.05" width="19.30" height="3.06" fill="#ff4545"/>
<rect x="501.50" y="101.81" width="19.30" height="3.06" fill="#ff4a4a"/>
<rect x="501.50" y="104.57" width="19.30" height="3.06" fill="#ff4f4f"/>
<rect x="501.50" y="107.33" width="19.30" height="3.06" fill="#ff5454"/>
<rect x="501.50" y="110.09" width="19.30" height="3.06" fill="#ff5959"/>
<rect x="501.50" y="112.84" width="19.30" height="3.06" fill="#ff5e5e"/>
<rect x="501.50" y="115.60" width="19.30" height="3.06" fill="#ff6363"/>
<rect x="501.50" y="118.36" width="19.30" height="3.06" fill="#ff6969"/>
<rect x="501.50" y="121.12" width="19.30" height="3.06" fill="#ff6e6e"/>
<rect x="501.50" y="123.88" width="19.30" height="3.06" fill="#ff7373"/>
<rect x="501.50" y="126.63" width="19.30" height="3.06" fill="#ff7878"/>
<rect x="501.50" y="129.39" width="19.30" height="3.06" fill="#ff7d7d"/>
<rect x="501.50" y="132.15" width="19.30" height="3.06" fill="#ff8282"/>
<rect x="501.50" y="134.91" width="19.30" height="3.06" fill="#ff8787"/>
<rect x="501.50" y="137.67" width="19.30" height="3.06" fill="#ff8c8c"/>
<rect x="501.50" y="140.42" width="19.30" height="3.06" fill="#ff9191"/>
<rect x="501.50" y="143.18" width="19.30" height="3.06" fill="#ff9696"/>
<rect x="501.50" y="145.94" width="19.30" height="3.06" fill="#ff9c9c"/>
<rect x="501.50" y="148.70" width="19.30" height="3.06" fill="#ffa1a1"/>
<rect x="501.50" y="151.46" width="19.30" height="3.06" fill="#ffa6a6"/>
<rect x="501.50" y="154.21" width="19.30" height="3.06" fill="#ffabab"/>
<rect x="501.50" y="156.97" width="19.30" height="3.06" fill="#ffb0b0"/>
<rect x="501.50" y="159.73" width="19.30" height="3.06" fill="#ffb5b5"/>
<rect x="501.50" y="162.49" width="19.30" height="3.06" fill="#ffbaba"/>
<rect x="501.50" y="165.25" width="19.30" height="3.06" fill="#ffbfbf"/>
<rect x="501.50" y="168.00" width="19.30" height="3.06" fill="#ffc4c4"/>
<rect x="501.50" y="170.76" width="19.30" height="3.06" fill="#ffc9c9"/>
<rect x="501.50" y="173.52" width="19.30" height="3.06" fill="#ffcfcf"/>
<rect x="501.50" y="176.28" width="19.30" height="3.06" fill="#ffd4d4"/>
<rect x="501.50" y="179.04" width="19.30" height="3.06" fill="#ffd9d9"/>
<rect x="501.50" y="181.79" width="19.30" height="3.06" fill="#ffdede"/>
<rect x="501.50" y="184.55" width="19.30" height="3.06" fill="#ffe3e3"/>
<rect x="501.50" y="187.31" width="19.30" height="3.06" fill="#ffe8e8"/>
<rect x="501.50" y="190.07" width="19.30" height="3.06" fill="#ffeded"/>
<rect x="501.50" y="192.83" width="19.30" height="3.06" fill="#fff2f2"/>
<rect x="501.50" y="195.58" width="19.30" height="3.06" fill="#fff7f7"/>
<rect x="501.50" y="198.34" width="19.30" height="3.06" fill="#fffcfc"/>
<rect x="501.50" y="201.10" width="19.30" height="3.06" fill="#fcfcfe"/>
<rect x="501.50" y="203.86" width="19.30" height="3.06" fill="#f7f7fc"/>
<rect x="501.50" y="206.62" width="19.30" height="3.06" fill="#f2f2fb"/>
<rect x="501.50" y="209.37" width="19.30" height="3.06" fill="#ededf9"/>
<rect x="501.50" y="212.13" width="19.30" height="3.06" fill="#e8e8f7"/>
<rect x="501.50" y="214.89" width="19.30" height="3.06" fill="#e3e3f6"/>
<rect x="501.50" y="217.65" width="19.30" height="3.06" fill="#dedef4"/>
<rect x="501.50" y="220.41" width="19.30" height="3.06" fill="#d9d9f2"/>
<rect x="501.50" y="223.16" width="19.30" height="3.06" fill="#d4d4f1"/>
<rect x="501.50" y="225.92" width="19.30" height="3.06" fill="#cfcfef"/>
<rect x="501.50" y="228.68" width="19.30" height="3.06" fill="#c9c9ed"/>
<rect x="501.50" y="231.44" width="19.30" height="3.06" fill="#c4c4eb"/>
<rect x="501.50" y="234.20" width="19.30" height="3.06" fill="#bfbfea"/>
<rect x="501.50" y="236.95" width="19.30" height="3.06" fill="#babae8"/>
<rect x="501.50" y="239.71" width="19.30" height="3.06" fill="#b5b5e6"/>
<rect x="501.50" y="242.47" width="19.30" height="3.06" fill="#b0b0e5"/>
<rect x="501.50" y="245.23" width="19.30" height="3.06" fill="#ababe3"/>
<rect x="501.50" y="247.99" width="19.30" height="3.06" fill="#a6a6e1"/>
<rect x="501.50" y="250.74" width="19.30" height="3.06" fill="#a1a1e0"/>
<rect x="501.50" y="253.50" width="19.30" height="3.06" fill="#9c9cde"/>
<rect x="501.50" y="256.26" width="19.30" height="3.06" fill="#9696dc"/>
<rect x="501.50" y="259.02" width="19.30" height="3.06" fill="#9191da"/>
<rect x="501.50" y="261.78" width="19.30" height="3.06" fill="#8c8cd9"/>
<rect x="501.50" y="264.53" width="19.30" height="3.06" fill="#8787d7"/>
<rect x="501.50" y="267.29" width="19.30" height="3.06" fill="#8282d5"/>
<rect x="501.50" y="270.05" width="19.30" height="3.06" fill="#7d7dd4"/>
<rect x="501.50" y="272.81" width="19.30" height="3.06" fill="#7878d2"/>
<rect x="501.50" y="275.57" width="19.30" height="3.06" fill="#7373d0"/>
<rect x="501.50" y="278.32" width="19.30" height="3.06" fill="#6e6ecf"/>
<rect x="501.50" y="281.08" width="19.30" height="3.06" fill="#6969cd"/>
<rect x="501.50" y="283.84" width="19.30" height="3.06" fill="#6363cb"/>
<rect x="501.50" y="286.60" width="19.30" height="3.06" fill="#5e5ec9"/>
<rect x="501.50" y="289.36" width="19.30" height="3.06" fill="#5959c8"/>
<rect x="501.50" y="292.11" width="19.30" height="3.06" fill="#5454c6"/>
<rect x="501.50" y="294.87" width="19.30" height="3.06" fill="#4f4fc4"/>
<rect x="501.50" y="297.63" width="19.30" height="3.06" fill="#4a4ac3"/>
<rect x="501.50" y="300.39" width="19.30" height="3.06" fill="#4545c1"/>
<rect x="501.50" y="303.15" width="19.30" height="3.06" fill="#4040bf"/>
<rect x="501.50" y="305.90" width="19.30" height="3.06" fill="#3b3bbe"/>
<rect x="501.50" y="308.66" width="19.30" height="3.06" fill="#3636bc"/>
<rect x="501.50" y="311.42" width="19.30" height="3.06" fill="#3030ba"/>
<rect x="501.50" y="314.18" width="19.30" height="3.06" fill="#2b2bb8"/>
<rect x="501.50" y="316.94" width="19.30" height="3.06" fill="#2626b7"/>
<rect x="501.50" y="319.69" width="19.30" height="3.06" fill="#2121b5"/>
<rect x="501.50" y="322.45" width="19.30" height="3.06" fill="#1c1cb3"/>
<rect x="501.50" y="325.21" width="19.30" height="3.06" fill="#1717b2"/>
<rect x="501.50" y="327.97" width="19.30" height="3.06" fill="#1212b0"/>
<rect x="501.50" y="330.73" width="19.30" height="3.06" fill="#0d0dae"/>
<rect x="501.50" y="333.48" width="19.30" height="3.06" fill="#0808ad"/>
<rect x="501.50" y="336.24" width="19.30" height="3.06" fill="#0303ab"/>
<rect x="501.50" y="63.20" width="19.30" height="275.80" fill="none" stroke="#444" stroke-width="1"/>
<text transform="translate(528.4 66.28) scale(0.95 1)" font-size="8.6">1.0</text>
<text transform="translate(528.4 93.86) scale(0.95 1)" font-size="8.6">0.80</text>
<text transform="translate(528.4 121.44) scale(0.95 1)" font-size="8.6">0.60</text>
<text transform="translate(528.4 149.02) scale(0.95 1)" font-size="8.6">0.40</text>
<text transform="translate(528.4 176.60) scale(0.95 1)" font-size="8.6">0.20</text>
<text transform="translate(528.4 204.18) scale(0.95 1)" font-size="8.6">0.0</text>
<text transform="translate(528.4 231.76) scale(0.95 1)" font-size="8.6">-0.20</text>
<text transform="translate(528.4 259.34) scale(0.95 1)" font-size="8.6">-0.40</text>
<text transform="translate(528.4 286.92) scale(0.95 1)" font-size="8.6">-0.60</text>
<text transform="translate(528.4 314.50) scale(0.95 1)" font-size="8.6">-0.80</text>
<text transform="translate(528.4 342.08) scale(0.95 1)" font-size="8.6">-1.0</text>
<path d="M520.80 63.20H526.00M520.80 90.78H526.00M520.80 118.36H526.00M520.80 145.94H526.00M520.80 173.52H526.00M520.80 201.10H526.00M520.80 228.68H526.00M520.80 256.26H526.00M520.80 283.84H526.00M520.80 311.42H526.00M520.80 339.00H526.00" stroke="#444" stroke-width="1" fill="none"/>
</svg></body></html>
